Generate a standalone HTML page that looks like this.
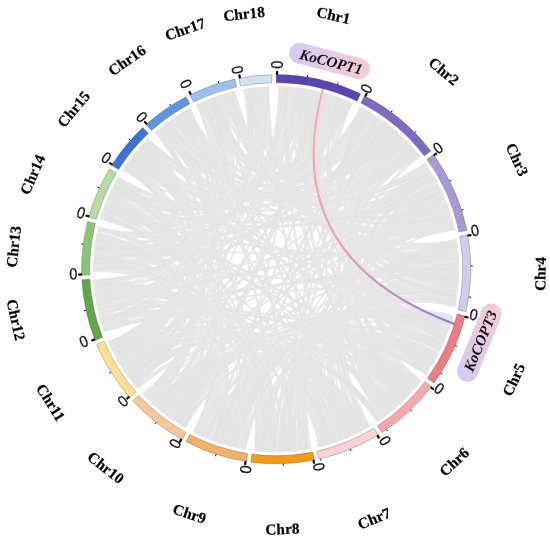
<!DOCTYPE html><html><head><meta charset="utf-8"><style>html,body{margin:0;padding:0;background:#fff;}svg{display:block;}</style></head><body>
<svg width="550" height="540" viewBox="0 0 550 540">
<defs><linearGradient id="lk" gradientUnits="userSpaceOnUse" x1="322.9" y1="88.9" x2="455.5" y2="324.4"><stop offset="0" stop-color="#f6acb2"/><stop offset="0.5" stop-color="#eea3b4"/><stop offset="0.75" stop-color="#c992c2"/><stop offset="1" stop-color="#8c74cd"/></linearGradient><linearGradient id="pill" x1="0" y1="0" x2="1" y2="0"><stop offset="0" stop-color="#d3ccf4"/><stop offset="1" stop-color="#f8cbd4"/></linearGradient></defs>
<rect width="550" height="540" fill="#fff"/>
<g fill="#e3e3e3" fill-opacity="0.82" stroke="#efefef" stroke-width="0.25">
<path d="M100.31,219.41 A182.8,182.8 0 0 1 102.01,213.74 Q270.73,257.88 341.07,98.30 A182.8,182.8 0 0 1 346.45,100.44 Q270.92,258.27 100.31,219.41 Z"/>
<path d="M102.33,212.75 A182.8,182.8 0 0 1 103.78,208.49 Q276.69,265.42 458.39,254.24 A182.8,182.8 0 0 1 458.63,257.55 Q276.63,265.79 102.33,212.75 Z"/>
<path d="M405.62,140.10 A182.8,182.8 0 0 1 408.44,142.99 Q287.41,270.79 368.11,427.21 A182.8,182.8 0 0 1 365.03,428.97 Q287.11,270.73 405.62,140.10 Z"/>
<path d="M262.59,451.49 A182.8,182.8 0 0 1 259.40,451.23 Q268.34,272.45 135.76,152.19 A182.8,182.8 0 0 1 138.11,149.42 Q268.61,272.33 262.59,451.49 Z"/>
<path d="M430.25,170.79 A182.8,182.8 0 0 1 432.13,173.80 Q292.34,268.17 442.98,344.03 A182.8,182.8 0 0 1 441.22,347.84 Q292.15,268.21 430.25,170.79 Z"/>
<path d="M457.12,243.06 A182.8,182.8 0 0 1 457.87,248.89 Q287.66,277.01 323.69,445.72 A182.8,182.8 0 0 1 321.40,446.32 Q287.51,276.75 457.12,243.06 Z"/>
<path d="M154.43,405.54 A182.8,182.8 0 0 1 151.05,402.44 Q275.98,282.73 396.91,406.47 A182.8,182.8 0 0 1 391.73,410.86 Q275.89,283.10 154.43,405.54 Z"/>
<path d="M304.24,449.84 A182.8,182.8 0 0 1 299.08,450.56 Q283.61,271.62 401.55,136.14 A182.8,182.8 0 0 1 404.09,138.58 Q284.00,271.70 304.24,449.84 Z"/>
<path d="M96.36,301.94 A182.8,182.8 0 0 1 95.53,297.00 Q258.10,269.47 94.78,246.80 A182.8,182.8 0 0 1 95.51,241.49 Q258.17,269.45 96.36,301.94 Z"/>
<path d="M167.84,121.98 A182.8,182.8 0 0 1 172.64,118.56 Q264.61,268.18 147.89,399.40 A182.8,182.8 0 0 1 146.72,398.24 Q264.31,268.29 167.84,121.98 Z"/>
<path d="M391.85,127.63 A182.8,182.8 0 0 1 396.56,131.61 Q290.58,266.01 443.49,342.89 A182.8,182.8 0 0 1 442.61,344.85 Q290.30,265.90 391.85,127.63 Z"/>
<path d="M352.52,435.31 A182.8,182.8 0 0 1 346.44,437.97 Q280.17,286.77 285.31,451.77 A182.8,182.8 0 0 1 282.51,451.89 Q280.33,286.64 352.52,435.31 Z"/>
<path d="M283.78,451.84 A182.8,182.8 0 0 1 279.81,451.96 Q267.35,279.77 95.66,297.83 A182.8,182.8 0 0 1 94.77,291.53 Q267.51,279.45 283.78,451.84 Z"/>
<path d="M347.96,437.33 A182.8,182.8 0 0 1 343.87,439.01 Q276.48,269.09 214.19,97.24 A182.8,182.8 0 0 1 217.71,96.01 Q276.86,268.95 347.96,437.33 Z"/>
<path d="M166.95,415.76 A182.8,182.8 0 0 1 162.87,412.63 Q278.35,281.11 432.49,364.01 A182.8,182.8 0 0 1 429.49,368.79 Q278.40,281.51 166.95,415.76 Z"/>
<path d="M162.29,412.17 A182.8,182.8 0 0 1 159.72,410.08 Q270.57,285.38 280.15,451.96 A182.8,182.8 0 0 1 278.15,451.99 Q270.60,285.49 162.29,412.17 Z"/>
<path d="M138.71,148.73 A182.8,182.8 0 0 1 140.76,146.43 Q263.37,269.91 155.14,406.17 A182.8,182.8 0 0 1 153.50,404.71 Q263.19,269.95 138.71,148.73 Z"/>
<path d="M342.17,439.68 A182.8,182.8 0 0 1 339.22,440.79 Q281.48,268.89 318.71,91.41 A182.8,182.8 0 0 1 321.61,92.13 Q281.77,268.87 342.17,439.68 Z"/>
<path d="M276.58,452.00 A182.8,182.8 0 0 1 270.88,451.92 Q271.49,270.35 187.41,109.41 A182.8,182.8 0 0 1 190.36,107.81 Q271.93,270.27 276.58,452.00 Z"/>
<path d="M339.23,97.61 A182.8,182.8 0 0 1 341.82,98.58 Q288.38,258.60 454.24,227.75 A182.8,182.8 0 0 1 454.75,230.03 Q288.28,258.66 339.23,97.61 Z"/>
<path d="M448.16,331.21 A182.8,182.8 0 0 1 446.39,335.92 Q289.96,265.06 381.24,119.59 A182.8,182.8 0 0 1 386.66,123.55 Q290.32,265.02 448.16,331.21 Z"/>
<path d="M200.73,102.71 A182.8,182.8 0 0 1 205.70,100.54 Q276.04,252.27 343.46,99.23 A182.8,182.8 0 0 1 348.72,101.40 Q276.05,252.49 200.73,102.71 Z"/>
<path d="M150.55,401.97 A182.8,182.8 0 0 1 147.76,399.27 Q262.89,269.70 138.35,149.15 A182.8,182.8 0 0 1 141.73,145.37 Q263.19,269.65 150.55,401.97 Z"/>
<path d="M245.75,449.45 A182.8,182.8 0 0 1 239.48,448.27 Q265.26,279.01 94.20,286.27 A182.8,182.8 0 0 1 93.80,281.24 Q265.56,278.81 245.75,449.45 Z"/>
<path d="M223.95,444.37 A182.8,182.8 0 0 1 218.90,442.79 Q281.22,282.50 433.96,361.55 A182.8,182.8 0 0 1 430.87,366.63 Q281.32,282.83 223.95,444.37 Z"/>
<path d="M95.14,294.36 A182.8,182.8 0 0 1 94.68,290.83 Q271.66,278.22 366.82,427.95 A182.8,182.8 0 0 1 362.00,430.61 Q271.44,278.53 95.14,294.36 Z"/>
<path d="M456.74,240.54 A182.8,182.8 0 0 1 457.70,247.48 Q289.95,260.26 369.76,112.16 A182.8,182.8 0 0 1 371.15,112.99 Q289.97,259.96 456.74,240.54 Z"/>
<path d="M198.53,103.72 A182.8,182.8 0 0 1 204.45,101.07 Q263.63,259.08 96.62,235.02 A182.8,182.8 0 0 1 96.99,233.13 Q263.36,259.12 198.53,103.72 Z"/>
<path d="M136.51,387.11 A182.8,182.8 0 0 1 133.37,383.29 Q260.05,273.38 95.97,238.65 A182.8,182.8 0 0 1 97.10,232.63 Q260.26,273.27 136.51,387.11 Z"/>
<path d="M159.91,128.16 A182.8,182.8 0 0 1 163.72,125.10 Q279.41,259.64 452.82,222.06 A182.8,182.8 0 0 1 454.02,226.81 Q279.28,260.03 159.91,128.16 Z"/>
<path d="M261.81,86.97 A182.8,182.8 0 0 1 264.38,86.78 Q270.72,252.36 178.36,114.79 A182.8,182.8 0 0 1 182.39,112.30 Q270.79,252.24 261.81,86.97 Z"/>
<path d="M196.12,104.87 A182.8,182.8 0 0 1 198.83,103.58 Q263.51,263.29 99.67,316.66 A182.8,182.8 0 0 1 98.71,312.95 Q263.32,263.17 196.12,104.87 Z"/>
<path d="M435.53,179.59 A182.8,182.8 0 0 1 436.75,181.79 Q289.80,272.08 387.59,414.14 A182.8,182.8 0 0 1 384.01,416.82 Q289.56,272.10 435.53,179.59 Z"/>
<path d="M93.47,263.99 A182.8,182.8 0 0 1 93.56,261.64 Q267.62,259.70 287.24,86.73 A182.8,182.8 0 0 1 291.85,87.07 Q267.85,259.83 93.47,263.99 Z"/>
<path d="M261.90,451.44 A182.8,182.8 0 0 1 255.77,450.86 Q268.27,284.26 137.97,388.82 A182.8,182.8 0 0 1 134.78,385.03 Q268.41,284.10 261.90,451.44 Z"/>
<path d="M336.26,96.55 A182.8,182.8 0 0 1 340.08,97.92 Q288.51,261.30 458.52,282.38 A182.8,182.8 0 0 1 458.15,286.78 Q288.30,261.45 336.26,96.55 Z"/>
<path d="M425.64,163.93 A182.8,182.8 0 0 1 428.85,168.63 Q277.96,257.17 158.66,129.20 A182.8,182.8 0 0 1 163.35,125.39 Q278.03,256.75 425.64,163.93 Z"/>
<path d="M115.40,356.15 A182.8,182.8 0 0 1 114.43,354.33 Q271.40,281.98 341.98,439.76 A182.8,182.8 0 0 1 338.20,441.16 Q271.26,282.15 115.40,356.15 Z"/>
<path d="M338.55,97.36 A182.8,182.8 0 0 1 340.21,97.97 Q272.88,267.04 145.75,397.25 A182.8,182.8 0 0 1 143.62,395.05 Q272.69,266.90 338.55,97.36 Z"/>
<path d="M159.21,409.66 A182.8,182.8 0 0 1 157.62,408.32 Q277.78,270.95 426.40,165.00 A182.8,182.8 0 0 1 429.18,169.14 Q278.00,271.22 159.21,409.66 Z"/>
<path d="M147.12,398.63 A182.8,182.8 0 0 1 143.51,394.93 Q260.48,274.45 94.57,248.51 A182.8,182.8 0 0 1 94.87,246.08 Q260.68,274.52 147.12,398.63 Z"/>
<path d="M178.21,114.88 A182.8,182.8 0 0 1 180.21,113.63 Q266.60,269.20 180.16,424.74 A182.8,182.8 0 0 1 176.16,422.20 Q266.30,269.13 178.21,114.88 Z"/>
<path d="M457.79,248.21 A182.8,182.8 0 0 1 458.07,250.80 Q285.72,277.41 284.72,451.80 A182.8,182.8 0 0 1 280.73,451.94 Q285.51,277.29 457.79,248.21 Z"/>
<path d="M221.57,443.65 A182.8,182.8 0 0 1 216.84,442.09 Q278.39,285.39 379.39,420.09 A182.8,182.8 0 0 1 378.15,420.93 Q278.57,285.51 221.57,443.65 Z"/>
<path d="M328.09,93.92 A182.8,182.8 0 0 1 331.53,94.97 Q270.79,256.40 112.71,187.42 A182.8,182.8 0 0 1 114.50,183.94 Q270.71,256.17 328.09,93.92 Z"/>
<path d="M209.69,439.47 A182.8,182.8 0 0 1 203.49,436.92 Q280.68,281.78 438.57,353.18 A182.8,182.8 0 0 1 436.79,356.53 Q280.90,282.08 209.69,439.47 Z"/>
<path d="M175.07,421.48 A182.8,182.8 0 0 1 172.76,419.92 Q262.83,272.70 112.18,188.49 A182.8,182.8 0 0 1 114.48,183.99 Q263.06,272.55 175.07,421.48 Z"/>
<path d="M320.83,91.93 A182.8,182.8 0 0 1 323.32,92.58 Q287.30,263.02 451.15,322.18 A182.8,182.8 0 0 1 449.49,327.41 Q287.10,263.25 320.83,91.93 Z"/>
<path d="M323.29,92.57 A182.8,182.8 0 0 1 329.55,94.36 Q276.25,251.70 223.88,94.05 A182.8,182.8 0 0 1 227.36,93.04 Q276.11,251.56 323.29,92.57 Z"/>
<path d="M458.73,259.24 A182.8,182.8 0 0 1 458.85,261.71 Q285.95,259.71 288.51,86.82 A182.8,182.8 0 0 1 292.25,87.11 Q286.13,259.60 458.73,259.24 Z"/>
<path d="M124.17,370.70 A182.8,182.8 0 0 1 121.31,366.28 Q267.63,264.95 259.77,87.14 A182.8,182.8 0 0 1 261.93,86.96 Q267.89,265.16 124.17,370.70 Z"/>
<path d="M428.61,370.13 A182.8,182.8 0 0 1 425.67,374.44 Q288.05,266.44 363.69,108.70 A182.8,182.8 0 0 1 367.36,110.75 Q288.38,266.32 428.61,370.13 Z"/>
<path d="M346.20,438.07 A182.8,182.8 0 0 1 340.54,440.30 Q287.62,273.72 440.25,188.55 A182.8,182.8 0 0 1 442.64,193.62 Q288.02,273.86 346.20,438.07 Z"/>
<path d="M250.79,88.17 A182.8,182.8 0 0 1 256.50,87.46 Q284.07,257.84 453.24,223.67 A182.8,182.8 0 0 1 453.76,225.75 Q283.81,257.98 250.79,88.17 Z"/>
<path d="M104.34,331.50 A182.8,182.8 0 0 1 102.37,325.75 Q261.43,265.20 154.61,132.70 A182.8,182.8 0 0 1 159.29,128.67 Q261.76,265.29 104.34,331.50 Z"/>
<path d="M334.08,442.60 A182.8,182.8 0 0 1 329.98,443.91 Q273.00,270.95 158.42,129.40 A182.8,182.8 0 0 1 161.13,127.16 Q273.34,270.77 334.08,442.60 Z"/>
<path d="M438.84,352.66 A182.8,182.8 0 0 1 436.09,357.81 Q285.79,282.63 308.10,449.20 A182.8,182.8 0 0 1 305.63,449.62 Q285.80,282.39 438.84,352.66 Z"/>
<path d="M458.05,287.84 A182.8,182.8 0 0 1 457.80,290.08 Q281.89,278.73 208.34,438.94 A182.8,182.8 0 0 1 206.33,438.12 Q281.80,278.58 458.05,287.84 Z"/>
<path d="M97.30,231.65 A182.8,182.8 0 0 1 98.02,228.38 Q266.40,258.06 258.34,87.27 A182.8,182.8 0 0 1 261.30,87.01 Q266.51,258.21 97.30,231.65 Z"/>
<path d="M165.67,414.80 A182.8,182.8 0 0 1 162.51,412.34 Q262.05,272.91 106.89,200.28 A182.8,182.8 0 0 1 108.82,195.71 Q262.30,272.81 165.67,414.80 Z"/>
<path d="M108.32,196.86 A182.8,182.8 0 0 1 110.02,193.05 Q260.28,270.46 124.04,370.51 A182.8,182.8 0 0 1 120.91,365.64 Q260.04,270.41 108.32,196.86 Z"/>
<path d="M327.11,444.77 A182.8,182.8 0 0 1 324.83,445.41 Q270.30,281.77 109.56,344.34 A182.8,182.8 0 0 1 108.23,341.32 Q270.35,281.58 327.11,444.77 Z"/>
<path d="M448.86,209.15 A182.8,182.8 0 0 1 450.04,212.68 Q287.70,275.07 332.36,443.16 A182.8,182.8 0 0 1 327.43,444.67 Q287.39,274.97 448.86,209.15 Z"/>
<path d="M132.35,382.00 A182.8,182.8 0 0 1 129.62,378.42 Q277.47,277.75 448.25,330.97 A182.8,182.8 0 0 1 447.65,332.62 Q277.58,278.01 132.35,382.00 Z"/>
<path d="M99.94,317.65 A182.8,182.8 0 0 1 99.24,315.06 Q266.20,262.43 253.06,87.87 A182.8,182.8 0 0 1 259.56,87.16 Q266.55,262.52 99.94,317.65 Z"/>
<path d="M443.38,343.15 A182.8,182.8 0 0 1 442.49,345.11 Q282.20,281.84 229.99,446.06 A182.8,182.8 0 0 1 225.13,444.72 Q282.01,281.67 443.38,343.15 Z"/>
<path d="M170.66,119.94 A182.8,182.8 0 0 1 175.77,116.46 Q276.19,253.92 376.39,116.30 A182.8,182.8 0 0 1 380.29,118.93 Q276.13,254.22 170.66,119.94 Z"/>
<path d="M178.03,115.00 A182.8,182.8 0 0 1 181.00,113.14 Q266.19,268.88 171.24,418.87 A182.8,182.8 0 0 1 166.50,415.42 Q265.81,268.80 178.03,115.00 Z"/>
<path d="M128.83,377.36 A182.8,182.8 0 0 1 126.30,373.83 Q273.00,282.50 362.04,430.59 A182.8,182.8 0 0 1 358.21,432.57 Q272.93,282.78 128.83,377.36 Z"/>
<path d="M419.29,382.96 A182.8,182.8 0 0 1 415.50,387.57 Q284.23,284.20 297.60,450.74 A182.8,182.8 0 0 1 293.88,451.14 Q284.24,283.99 419.29,382.96 Z"/>
<path d="M301.55,450.23 A182.8,182.8 0 0 1 297.64,450.74 Q268.27,276.71 96.10,237.90 A182.8,182.8 0 0 1 96.92,233.52 Q268.50,276.47 301.55,450.23 Z"/>
<path d="M103.87,208.23 A182.8,182.8 0 0 1 105.81,202.99 Q274.76,271.66 417.88,384.71 A182.8,182.8 0 0 1 415.40,387.69 Q274.54,272.08 103.87,208.23 Z"/>
<path d="M458.34,284.70 A182.8,182.8 0 0 1 457.91,289.17 Q287.06,261.23 311.68,89.88 A182.8,182.8 0 0 1 318.49,91.36 Q287.42,261.08 458.34,284.70 Z"/>
<path d="M400.56,135.22 A182.8,182.8 0 0 1 404.18,138.67 Q273.48,262.04 93.83,256.63 A182.8,182.8 0 0 1 94.30,251.06 Q273.32,261.59 400.56,135.22 Z"/>
<path d="M130.61,158.66 A182.8,182.8 0 0 1 131.98,156.88 Q272.56,255.17 347.61,100.92 A182.8,182.8 0 0 1 351.68,102.71 Q272.69,255.35 130.61,158.66 Z"/>
<path d="M122.23,170.67 A182.8,182.8 0 0 1 123.27,169.06 Q275.64,258.43 418.01,153.85 A182.8,182.8 0 0 1 420.38,156.83 Q275.71,258.65 122.23,170.67 Z"/>
<path d="M457.17,295.03 A182.8,182.8 0 0 1 456.39,299.97 Q286.76,279.75 307.25,449.34 A182.8,182.8 0 0 1 304.00,449.87 Q286.64,279.53 457.17,295.03 Z"/>
<path d="M452.57,221.13 A182.8,182.8 0 0 1 454.03,226.85 Q281.65,258.62 207.31,99.88 A182.8,182.8 0 0 1 211.76,98.13 Q281.80,258.24 452.57,221.13 Z"/>
<path d="M409.03,143.61 A182.8,182.8 0 0 1 410.74,145.45 Q278.20,255.19 181.71,112.72 A182.8,182.8 0 0 1 187.59,109.31 Q278.41,254.93 409.03,143.61 Z"/>
<path d="M176.86,422.65 A182.8,182.8 0 0 1 171.81,419.26 Q272.80,267.75 312.65,90.07 A182.8,182.8 0 0 1 317.55,91.14 Q273.30,267.97 176.86,422.65 Z"/>
<path d="M204.42,101.08 A182.8,182.8 0 0 1 208.48,99.41 Q264.65,264.82 112.89,351.34 A182.8,182.8 0 0 1 109.87,345.03 Q264.29,264.59 204.42,101.08 Z"/>
<path d="M216.59,442.01 A182.8,182.8 0 0 1 210.07,439.62 Q280.57,282.69 429.65,368.55 A182.8,182.8 0 0 1 425.77,374.30 Q280.70,283.10 216.59,442.01 Z"/>
<path d="M454.16,227.43 A182.8,182.8 0 0 1 454.76,230.08 Q291.40,260.60 401.72,136.30 A182.8,182.8 0 0 1 403.37,137.89 Q291.46,260.55 454.16,227.43 Z"/>
<path d="M369.02,426.68 A182.8,182.8 0 0 1 362.95,430.10 Q275.15,284.63 168.41,416.84 A182.8,182.8 0 0 1 163.99,413.51 Q275.23,284.29 369.02,426.68 Z"/>
<path d="M459.00,269.34 A182.8,182.8 0 0 1 458.91,275.00 Q286.05,260.38 290.47,86.96 A182.8,182.8 0 0 1 292.41,87.12 Q286.15,260.10 459.00,269.34 Z"/>
<path d="M394.90,408.21 A182.8,182.8 0 0 1 392.75,410.03 Q276.08,283.18 157.30,408.05 A182.8,182.8 0 0 1 155.57,406.55 Q276.10,283.02 394.90,408.21 Z"/>
<path d="M96.90,304.80 A182.8,182.8 0 0 1 95.88,299.23 Q276.06,268.54 453.81,225.95 A182.8,182.8 0 0 1 454.77,230.09 Q276.16,269.02 96.90,304.80 Z"/>
<path d="M93.42,271.58 A182.8,182.8 0 0 1 93.43,266.14 Q266.83,278.18 271.51,451.94 A182.8,182.8 0 0 1 264.52,451.63 Q266.48,278.44 93.42,271.58 Z"/>
<path d="M438.46,353.39 A182.8,182.8 0 0 1 436.50,357.06 Q286.60,264.77 323.86,92.72 A182.8,182.8 0 0 1 326.73,93.52 Q286.84,264.63 438.46,353.39 Z"/>
<path d="M389.84,126.02 A182.8,182.8 0 0 1 393.02,128.60 Q287.58,269.44 386.93,414.65 A182.8,182.8 0 0 1 383.61,417.12 Q287.25,269.44 389.84,126.02 Z"/>
<path d="M134.10,154.21 A182.8,182.8 0 0 1 137.94,149.61 Q260.43,265.49 99.14,314.65 A182.8,182.8 0 0 1 97.62,308.25 Q260.17,265.40 134.10,154.21 Z"/>
<path d="M125.37,372.48 A182.8,182.8 0 0 1 124.17,370.70 Q276.52,269.71 434.59,177.94 A182.8,182.8 0 0 1 436.00,180.43 Q276.65,269.93 125.37,372.48 Z"/>
<path d="M94.68,290.81 A182.8,182.8 0 0 1 93.99,283.90 Q259.88,275.55 131.92,381.45 A182.8,182.8 0 0 1 129.34,378.04 Q259.78,275.72 94.68,290.81 Z"/>
<path d="M101.28,216.11 A182.8,182.8 0 0 1 102.72,211.58 Q266.98,257.20 265.29,86.73 A182.8,182.8 0 0 1 269.28,86.53 Q267.11,257.41 101.28,216.11 Z"/>
<path d="M445.58,337.95 A182.8,182.8 0 0 1 443.64,342.54 Q290.07,265.57 386.17,123.18 A182.8,182.8 0 0 1 389.39,125.66 Q290.33,265.46 445.58,337.95 Z"/>
<path d="M261.87,451.44 A182.8,182.8 0 0 1 255.06,450.77 Q280.39,285.76 381.11,418.90 A182.8,182.8 0 0 1 377.52,421.35 Q280.55,285.92 261.87,451.44 Z"/>
<path d="M411.25,392.40 A182.8,182.8 0 0 1 408.93,394.90 Q280.51,284.32 229.74,446.00 A182.8,182.8 0 0 1 223.76,444.32 Q280.33,284.12 411.25,392.40 Z"/>
<path d="M437.47,183.12 A182.8,182.8 0 0 1 439.64,187.33 Q282.06,256.26 229.90,92.36 A182.8,182.8 0 0 1 234.96,91.11 Q282.20,255.99 437.47,183.12 Z"/>
<path d="M280.89,86.46 A182.8,182.8 0 0 1 287.28,86.74 Q283.00,266.75 401.21,402.57 A182.8,182.8 0 0 1 398.85,404.75 Q282.57,266.84 280.89,86.46 Z"/>
<path d="M397.27,132.24 A182.8,182.8 0 0 1 399.83,134.54 Q290.86,265.88 445.75,337.52 A182.8,182.8 0 0 1 443.93,341.87 Q290.64,265.99 397.27,132.24 Z"/>
<path d="M124.01,167.94 A182.8,182.8 0 0 1 127.04,163.53 Q260.58,268.04 113.02,351.58 A182.8,182.8 0 0 1 110.58,346.58 Q260.31,268.01 124.01,167.94 Z"/>
<path d="M458.70,279.62 A182.8,182.8 0 0 1 458.46,283.19 Q293.81,266.53 446.15,201.88 A182.8,182.8 0 0 1 447.18,204.53 Q293.87,266.49 458.70,279.62 Z"/>
<path d="M220.03,443.16 A182.8,182.8 0 0 1 217.95,442.47 Q264.23,279.06 94.98,293.17 A182.8,182.8 0 0 1 94.30,287.36 Q264.30,278.81 220.03,443.16 Z"/>
<path d="M406.97,396.93 A182.8,182.8 0 0 1 402.75,401.11 Q278.75,284.12 200.57,435.62 A182.8,182.8 0 0 1 196.68,433.80 Q278.76,283.82 406.97,396.93 Z"/>
<path d="M385.38,415.81 A182.8,182.8 0 0 1 382.66,417.80 Q289.57,272.29 437.11,182.46 A182.8,182.8 0 0 1 439.56,187.16 Q289.83,272.43 385.38,415.81 Z"/>
<path d="M181.15,425.34 A182.8,182.8 0 0 1 177.75,423.22 Q273.32,267.99 317.11,91.04 A182.8,182.8 0 0 1 319.29,91.55 Q273.60,268.12 181.15,425.34 Z"/>
<path d="M180.82,113.26 A182.8,182.8 0 0 1 186.12,110.13 Q262.62,262.36 94.76,291.47 A182.8,182.8 0 0 1 94.54,289.62 Q262.35,262.42 180.82,113.26 Z"/>
<path d="M395.28,407.89 A182.8,182.8 0 0 1 392.04,410.61 Q286.47,268.30 365.81,109.87 A182.8,182.8 0 0 1 368.14,111.21 Q286.75,268.23 395.28,407.89 Z"/>
<path d="M302.49,88.30 A182.8,182.8 0 0 1 309.40,89.44 Q270.38,254.96 126.64,164.09 A182.8,182.8 0 0 1 128.26,161.82 Q270.12,254.79 302.49,88.30 Z"/>
<path d="M355.29,434.01 A182.8,182.8 0 0 1 353.82,434.70 Q277.70,286.30 228.60,445.69 A182.8,182.8 0 0 1 225.13,444.72 Q277.60,286.22 355.29,434.01 Z"/>
<path d="M315.77,90.73 A182.8,182.8 0 0 1 320.33,91.81 Q287.54,260.51 458.97,272.73 A182.8,182.8 0 0 1 458.74,279.00 Q287.31,260.77 315.77,90.73 Z"/>
<path d="M362.38,430.41 A182.8,182.8 0 0 1 360.80,431.24 Q272.26,281.40 112.81,351.18 A182.8,182.8 0 0 1 110.60,346.61 Q272.23,281.13 362.38,430.41 Z"/>
<path d="M410.92,145.64 A182.8,182.8 0 0 1 414.75,149.95 Q291.89,260.64 451.46,217.25 A182.8,182.8 0 0 1 452.06,219.31 Q291.73,260.53 410.92,145.64 Z"/>
<path d="M296.54,87.53 A182.8,182.8 0 0 1 300.73,88.05 Q285.21,264.94 431.83,365.08 A182.8,182.8 0 0 1 429.85,368.24 Q284.90,265.07 296.54,87.53 Z"/>
<path d="M333.29,95.54 A182.8,182.8 0 0 1 337.38,96.94 Q281.49,269.45 320.81,446.47 A182.8,182.8 0 0 1 318.83,446.96 Q281.19,269.41 333.29,95.54 Z"/>
<path d="M105.92,202.72 A182.8,182.8 0 0 1 107.04,199.90 Q268.11,256.60 283.55,86.55 A182.8,182.8 0 0 1 286.56,86.69 Q268.20,256.75 105.92,202.72 Z"/>
<path d="M410.69,393.01 A182.8,182.8 0 0 1 406.94,396.96 Q291.81,276.71 457.62,291.66 A182.8,182.8 0 0 1 456.74,297.88 Q291.95,276.82 410.69,393.01 Z"/>
<path d="M449.28,328.02 A182.8,182.8 0 0 1 448.75,329.54 Q277.45,266.82 128.67,161.26 A182.8,182.8 0 0 1 130.95,158.21 Q277.59,266.59 449.28,328.02 Z"/>
<path d="M424.72,162.62 A182.8,182.8 0 0 1 428.64,168.31 Q288.12,272.22 362.08,430.57 A182.8,182.8 0 0 1 356.70,433.32 Q287.65,272.08 424.72,162.62 Z"/>
<path d="M95.01,244.97 A182.8,182.8 0 0 1 95.59,241.02 Q263.53,276.18 203.44,436.89 A182.8,182.8 0 0 1 198.89,434.85 Q263.28,276.27 95.01,244.97 Z"/>
<path d="M329.78,94.43 A182.8,182.8 0 0 1 335.35,96.23 Q270.89,256.66 110.77,191.42 A182.8,182.8 0 0 1 112.04,188.79 Q270.67,256.44 329.78,94.43 Z"/>
<path d="M396.33,131.41 A182.8,182.8 0 0 1 401.21,135.83 Q289.61,268.21 419.44,382.76 A182.8,182.8 0 0 1 416.64,386.22 Q289.23,268.16 396.33,131.41 Z"/>
<path d="M109.78,193.57 A182.8,182.8 0 0 1 112.40,188.05 Q268.76,256.03 291.11,87.01 A182.8,182.8 0 0 1 293.08,87.18 Q268.72,256.32 109.78,193.57 Z"/>
<path d="M141.27,145.87 A182.8,182.8 0 0 1 143.85,143.11 Q265.08,270.85 186.07,428.24 A182.8,182.8 0 0 1 181.49,425.55 Q264.72,270.85 141.27,145.87 Z"/>
<path d="M435.93,358.10 A182.8,182.8 0 0 1 432.54,363.92 Q278.75,281.41 170.95,418.66 A182.8,182.8 0 0 1 168.46,416.87 Q278.80,281.03 435.93,358.10 Z"/>
<path d="M458.91,263.54 A182.8,182.8 0 0 1 459.00,268.00 Q291.14,276.21 392.14,410.53 A182.8,182.8 0 0 1 388.19,413.68 Q290.94,276.14 458.91,263.54 Z"/>
<path d="M121.09,365.93 A182.8,182.8 0 0 1 118.09,360.95 Q263.26,281.42 175.53,421.78 A182.8,182.8 0 0 1 170.02,418.00 Q263.14,281.48 121.09,365.93 Z"/>
<path d="M93.41,270.76 A182.8,182.8 0 0 1 93.43,265.99 Q266.39,259.92 262.69,86.90 A182.8,182.8 0 0 1 265.05,86.74 Q266.50,260.16 93.41,270.76 Z"/>
<path d="M144.11,142.83 A182.8,182.8 0 0 1 148.38,138.52 Q276.76,256.73 415.13,150.40 A182.8,182.8 0 0 1 417.52,153.25 Q276.66,257.08 144.11,142.83 Z"/>
<path d="M236.57,447.65 A182.8,182.8 0 0 1 233.22,446.88 Q277.46,286.56 344.42,438.79 A182.8,182.8 0 0 1 338.96,440.89 Q277.36,286.71 236.57,447.65 Z"/>
<path d="M224.73,444.60 A182.8,182.8 0 0 1 221.73,443.70 Q282.29,280.35 452.45,317.68 A182.8,182.8 0 0 1 451.63,320.57 Q282.40,280.54 224.73,444.60 Z"/>
<path d="M256.09,450.89 A182.8,182.8 0 0 1 254.39,450.69 Q266.36,275.62 101.28,216.11 A182.8,182.8 0 0 1 102.60,211.94 Q266.51,275.42 256.09,450.89 Z"/>
<path d="M380.20,419.53 A182.8,182.8 0 0 1 376.94,421.74 Q274.63,283.14 144.09,395.55 A182.8,182.8 0 0 1 142.10,393.43 Q274.70,282.93 380.20,419.53 Z"/>
<path d="M404.28,138.78 A182.8,182.8 0 0 1 408.07,142.61 Q280.43,254.04 229.01,92.60 A182.8,182.8 0 0 1 234.56,91.21 Q280.52,253.78 404.28,138.78 Z"/>
<path d="M129.18,160.56 A182.8,182.8 0 0 1 133.08,155.48 Q277.26,267.52 440.54,349.25 A182.8,182.8 0 0 1 439.63,351.09 Q277.02,267.86 129.18,160.56 Z"/>
<path d="M100.34,219.30 A182.8,182.8 0 0 1 101.01,216.99 Q274.10,272.85 409.30,394.50 A182.8,182.8 0 0 1 406.13,397.79 Q273.90,273.13 100.34,219.30 Z"/>
<path d="M155.17,132.21 A182.8,182.8 0 0 1 159.47,128.52 Q262.47,266.78 118.37,361.43 A182.8,182.8 0 0 1 115.61,356.54 Q262.12,266.72 155.17,132.21 Z"/>
<path d="M387.29,124.03 A182.8,182.8 0 0 1 390.46,126.51 Q273.87,257.73 115.29,182.46 A182.8,182.8 0 0 1 117.63,178.25 Q273.83,257.39 387.29,124.03 Z"/>
<path d="M450.18,325.29 A182.8,182.8 0 0 1 449.37,327.75 Q279.83,279.76 175.63,421.85 A182.8,182.8 0 0 1 171.96,419.37 Q279.69,279.51 450.18,325.29 Z"/>
<path d="M450.90,215.38 A182.8,182.8 0 0 1 451.64,217.84 Q276.63,270.37 109.42,344.04 A182.8,182.8 0 0 1 108.12,341.08 Q276.53,270.10 450.90,215.38 Z"/>
<path d="M110.37,346.13 A182.8,182.8 0 0 1 108.49,341.92 Q262.34,265.51 166.81,122.74 A182.8,182.8 0 0 1 171.78,119.16 Q262.69,265.54 110.37,346.13 Z"/>
<path d="M456.38,300.02 A182.8,182.8 0 0 1 456.05,301.93 Q276.05,270.88 93.40,270.01 A182.8,182.8 0 0 1 93.43,265.75 Q276.07,270.57 456.38,300.02 Z"/>
<path d="M153.32,404.54 A182.8,182.8 0 0 1 151.34,402.72 Q278.61,278.81 449.30,327.96 A182.8,182.8 0 0 1 447.00,334.33 Q278.60,279.22 153.32,404.54 Z"/>
<path d="M149.94,401.39 A182.8,182.8 0 0 1 148.60,400.09 Q272.47,284.49 329.23,444.14 A182.8,182.8 0 0 1 324.46,445.51 Q272.30,284.63 149.94,401.39 Z"/>
<path d="M101.94,324.42 A182.8,182.8 0 0 1 101.21,322.07 Q261.98,264.52 166.79,122.76 A182.8,182.8 0 0 1 169.54,120.74 Q262.15,264.54 101.94,324.42 Z"/>
<path d="M459.00,269.92 A182.8,182.8 0 0 1 458.97,272.64 Q289.01,277.74 349.67,436.59 A182.8,182.8 0 0 1 343.54,439.14 Q288.71,277.73 459.00,269.92 Z"/>
<path d="M456.44,238.72 A182.8,182.8 0 0 1 456.99,242.16 Q285.89,276.97 289.15,451.54 A182.8,182.8 0 0 1 285.34,451.77 Q285.67,276.80 456.44,238.72 Z"/>
<path d="M380.87,119.33 A182.8,182.8 0 0 1 385.23,122.47 Q272.55,261.06 94.11,253.05 A182.8,182.8 0 0 1 94.49,249.26 Q272.35,260.71 380.87,119.33 Z"/>
<path d="M458.65,280.53 A182.8,182.8 0 0 1 458.34,284.69 Q284.07,260.92 251.51,88.08 A182.8,182.8 0 0 1 255.21,87.61 Q284.27,260.69 458.65,280.53 Z"/>
<path d="M339.10,440.84 A182.8,182.8 0 0 1 336.89,441.63 Q286.31,272.04 417.71,153.48 A182.8,182.8 0 0 1 419.87,156.17 Q286.53,272.13 339.10,440.84 Z"/>
<path d="M117.11,179.17 A182.8,182.8 0 0 1 118.20,177.26 Q265.03,273.14 210.76,439.89 A182.8,182.8 0 0 1 204.68,437.43 Q264.67,273.11 117.11,179.17 Z"/>
<path d="M121.13,366.00 A182.8,182.8 0 0 1 119.24,362.90 Q272.43,282.06 357.79,432.78 A182.8,182.8 0 0 1 353.24,434.97 Q272.30,282.33 121.13,366.00 Z"/>
<path d="M444.94,198.90 A182.8,182.8 0 0 1 445.86,201.16 Q293.66,267.49 455.82,303.14 A182.8,182.8 0 0 1 455.37,305.46 Q293.60,267.50 444.94,198.90 Z"/>
<path d="M447.70,205.93 A182.8,182.8 0 0 1 448.78,208.94 Q291.25,259.68 404.57,139.06 A182.8,182.8 0 0 1 405.92,140.40 Q291.26,259.60 447.70,205.93 Z"/>
<path d="M385.37,415.82 A182.8,182.8 0 0 1 382.94,417.60 Q276.92,268.73 183.87,111.43 A182.8,182.8 0 0 1 187.71,109.24 Q277.23,268.53 385.37,415.82 Z"/>
<path d="M417.13,152.77 A182.8,182.8 0 0 1 419.27,155.42 Q283.46,254.37 278.40,86.41 A182.8,182.8 0 0 1 280.81,86.46 Q283.48,254.24 417.13,152.77 Z"/>
<path d="M451.82,319.93 A182.8,182.8 0 0 1 450.72,323.58 Q280.90,280.12 195.63,433.29 A182.8,182.8 0 0 1 194.36,432.66 Q280.89,279.91 451.82,319.93 Z"/>
<path d="M408.27,142.81 A182.8,182.8 0 0 1 411.30,146.05 Q290.96,267.46 436.22,357.58 A182.8,182.8 0 0 1 433.09,363.01 Q290.65,267.57 408.27,142.81 Z"/>
<path d="M240.02,448.38 A182.8,182.8 0 0 1 237.61,447.88 Q268.22,271.29 155.14,132.23 A182.8,182.8 0 0 1 157.51,130.17 Q268.46,271.21 240.02,448.38 Z"/>
<path d="M231.13,92.04 A182.8,182.8 0 0 1 234.73,91.17 Q265.76,256.61 108.92,195.50 A182.8,182.8 0 0 1 111.71,189.47 Q265.72,256.36 231.13,92.04 Z"/>
<path d="M427.94,371.13 A182.8,182.8 0 0 1 425.43,374.77 Q275.08,277.62 104.56,332.10 A182.8,182.8 0 0 1 103.00,327.66 Q275.13,277.22 427.94,371.13 Z"/>
<path d="M281.10,86.47 A182.8,182.8 0 0 1 285.59,86.64 Q268.46,256.05 112.04,188.79 A182.8,182.8 0 0 1 114.65,183.66 Q268.37,255.79 281.10,86.47 Z"/>
<path d="M97.26,306.55 A182.8,182.8 0 0 1 96.11,300.57 Q271.41,262.66 360.40,106.95 A182.8,182.8 0 0 1 363.36,108.52 Q271.61,263.03 97.26,306.55 Z"/>
<path d="M436.58,181.48 A182.8,182.8 0 0 1 438.00,184.14 Q292.79,268.31 446.15,336.52 A182.8,182.8 0 0 1 443.92,341.91 Q292.60,268.45 436.58,181.48 Z"/>
<path d="M375.45,115.69 A182.8,182.8 0 0 1 379.27,118.23 Q282.17,270.75 292.61,451.26 A182.8,182.8 0 0 1 290.52,451.44 Q281.88,270.64 375.45,115.69 Z"/>
<path d="M427.46,166.55 A182.8,182.8 0 0 1 429.27,169.27 Q278.27,256.97 164.49,124.50 A182.8,182.8 0 0 1 166.66,122.86 Q278.29,256.75 427.46,166.55 Z"/>
<path d="M258.96,451.19 A182.8,182.8 0 0 1 257.02,450.99 Q283.66,281.85 444.54,340.46 A182.8,182.8 0 0 1 441.78,346.65 Q283.62,282.17 258.96,451.19 Z"/>
<path d="M238.73,448.12 A182.8,182.8 0 0 1 235.45,447.40 Q265.74,274.57 107.67,198.40 A182.8,182.8 0 0 1 109.01,195.28 Q265.97,274.45 238.73,448.12 Z"/>
<path d="M120.22,364.52 A182.8,182.8 0 0 1 118.38,361.44 Q261.34,267.90 136.77,150.99 A182.8,182.8 0 0 1 139.44,147.90 Q261.56,267.90 120.22,364.52 Z"/>
<path d="M457.99,249.99 A182.8,182.8 0 0 1 458.37,254.09 Q280.50,276.22 180.11,424.71 A182.8,182.8 0 0 1 175.65,421.86 Q280.26,275.87 457.99,249.99 Z"/>
<path d="M97.86,229.09 A182.8,182.8 0 0 1 98.33,227.04 Q259.05,271.01 111.08,347.62 A182.8,182.8 0 0 1 109.74,344.74 Q258.96,270.97 97.86,229.09 Z"/>
<path d="M196.72,104.58 A182.8,182.8 0 0 1 199.10,103.45 Q265.05,266.42 130.29,379.31 A182.8,182.8 0 0 1 128.75,377.25 Q264.85,266.37 196.72,104.58 Z"/>
<path d="M278.67,451.98 A182.8,182.8 0 0 1 275.64,452.00 Q267.04,278.10 93.46,264.34 A182.8,182.8 0 0 1 93.57,261.37 Q267.19,277.95 278.67,451.98 Z"/>
<path d="M95.82,298.85 A182.8,182.8 0 0 1 95.04,293.62 Q270.02,279.10 333.67,442.73 A182.8,182.8 0 0 1 329.53,444.05 Q269.85,279.42 95.82,298.85 Z"/>
<path d="M94.05,284.57 A182.8,182.8 0 0 1 93.72,280.05 Q259.88,264.11 132.29,156.48 A182.8,182.8 0 0 1 136.65,151.13 Q260.11,264.06 94.05,284.57 Z"/>
<path d="M250.05,88.28 A182.8,182.8 0 0 1 252.77,87.91 Q266.01,261.60 95.77,298.51 A182.8,182.8 0 0 1 95.41,296.25 Q265.85,261.51 250.05,88.28 Z"/>
<path d="M221.73,94.70 A182.8,182.8 0 0 1 224.66,93.81 Q278.32,252.59 370.06,112.34 A182.8,182.8 0 0 1 374.73,115.22 Q278.40,252.78 221.73,94.70 Z"/>
<path d="M328.10,444.48 A182.8,182.8 0 0 1 321.79,446.22 Q287.33,280.34 453.18,314.97 A182.8,182.8 0 0 1 452.16,318.73 Q287.59,280.44 328.10,444.48 Z"/>
<path d="M96.23,237.14 A182.8,182.8 0 0 1 97.19,232.17 Q260.98,274.00 150.84,402.24 A182.8,182.8 0 0 1 146.74,398.26 Q260.73,274.05 96.23,237.14 Z"/>
<path d="M302.46,450.10 A182.8,182.8 0 0 1 297.93,450.70 Q286.42,277.94 458.88,262.58 A182.8,182.8 0 0 1 458.93,264.26 Q286.65,278.00 302.46,450.10 Z"/>
<path d="M257.56,87.35 A182.8,182.8 0 0 1 262.63,86.90 Q280.39,252.35 373.60,114.51 A182.8,182.8 0 0 1 375.13,115.48 Q280.21,252.42 257.56,87.35 Z"/>
<path d="M360.35,106.92 A182.8,182.8 0 0 1 365.67,109.79 Q288.38,266.14 430.42,367.35 A182.8,182.8 0 0 1 428.36,370.51 Q288.02,266.15 360.35,106.92 Z"/>
<path d="M244.51,449.23 A182.8,182.8 0 0 1 242.36,448.84 Q283.62,277.46 458.44,254.84 A182.8,182.8 0 0 1 458.68,258.45 Q283.74,277.66 244.51,449.23 Z"/>
<path d="M127.02,374.85 A182.8,182.8 0 0 1 124.75,371.57 Q261.15,269.07 126.61,164.13 A182.8,182.8 0 0 1 128.32,161.74 Q261.35,269.11 127.02,374.85 Z"/>
<path d="M281.32,451.93 A182.8,182.8 0 0 1 277.62,451.99 Q284.77,274.97 446.08,201.71 A182.8,182.8 0 0 1 447.30,204.85 Q285.01,275.12 281.32,451.93 Z"/>
<path d="M440.85,189.79 A182.8,182.8 0 0 1 443.10,194.63 Q286.17,274.47 308.73,449.08 A182.8,182.8 0 0 1 303.40,449.97 Q285.79,274.27 440.85,189.79 Z"/>
<path d="M437.13,355.90 A182.8,182.8 0 0 1 434.17,361.18 Q285.84,282.77 311.04,448.65 A182.8,182.8 0 0 1 307.72,449.26 Q285.82,282.54 437.13,355.90 Z"/>
<path d="M354.53,434.37 A182.8,182.8 0 0 1 348.51,437.09 Q271.75,281.90 114.97,355.35 A182.8,182.8 0 0 1 113.89,353.28 Q272.00,281.66 354.53,434.37 Z"/>
<path d="M129.26,377.94 A182.8,182.8 0 0 1 126.22,373.71 Q265.96,265.71 221.45,94.79 A182.8,182.8 0 0 1 225.05,93.70 Q266.30,265.86 129.26,377.94 Z"/>
<path d="M333.56,95.63 A182.8,182.8 0 0 1 337.65,97.04 Q275.72,252.17 205.19,100.75 A182.8,182.8 0 0 1 208.64,99.34 Q275.69,252.03 333.56,95.63 Z"/>
<path d="M414.28,388.99 A182.8,182.8 0 0 1 409.85,393.91 Q285.49,266.67 328.29,93.98 A182.8,182.8 0 0 1 330.13,94.54 Q285.80,266.46 414.28,388.99 Z"/>
<path d="M458.21,252.26 A182.8,182.8 0 0 1 458.37,254.02 Q279.34,275.37 156.92,407.72 A182.8,182.8 0 0 1 152.52,403.81 Q279.12,275.08 458.21,252.26 Z"/>
<path d="M399.54,404.12 A182.8,182.8 0 0 1 395.77,407.47 Q274.60,281.22 124.62,371.38 A182.8,182.8 0 0 1 121.86,367.15 Q274.65,280.84 399.54,404.12 Z"/>
<path d="M116.72,179.86 A182.8,182.8 0 0 1 118.43,176.87 Q277.39,265.66 457.72,290.80 A182.8,182.8 0 0 1 457.50,292.55 Q277.29,265.90 116.72,179.86 Z"/>
<path d="M456.24,300.85 A182.8,182.8 0 0 1 455.23,306.14 Q285.84,280.16 290.02,451.48 A182.8,182.8 0 0 1 285.89,451.74 Q285.69,279.91 456.24,300.85 Z"/>
<path d="M335.69,442.05 A182.8,182.8 0 0 1 334.10,442.59 Q279.28,268.73 279.98,86.44 A182.8,182.8 0 0 1 281.93,86.49 Q279.46,268.71 335.69,442.05 Z"/>
<path d="M309.80,89.51 A182.8,182.8 0 0 1 312.39,90.02 Q269.03,261.94 96.58,303.17 A182.8,182.8 0 0 1 96.12,300.62 Q268.88,261.79 309.80,89.51 Z"/>
<path d="M449.12,209.91 A182.8,182.8 0 0 1 449.95,212.39 Q275.80,267.35 94.48,289.07 A182.8,182.8 0 0 1 94.11,285.26 Q275.74,267.04 449.12,209.91 Z"/>
<path d="M387.09,123.87 A182.8,182.8 0 0 1 391.32,127.21 Q275.37,255.76 144.46,142.47 A182.8,182.8 0 0 1 148.52,138.38 Q275.36,255.39 387.09,123.87 Z"/>
<path d="M295.33,451.00 A182.8,182.8 0 0 1 291.25,451.38 Q286.04,277.33 457.95,249.65 A182.8,182.8 0 0 1 458.35,253.85 Q286.26,277.52 295.33,451.00 Z"/>
<path d="M208.33,438.93 A182.8,182.8 0 0 1 205.24,437.66 Q275.94,269.09 341.90,98.62 A182.8,182.8 0 0 1 345.26,99.95 Q276.26,269.22 208.33,438.93 Z"/>
<path d="M438.42,184.93 A182.8,182.8 0 0 1 440.04,188.14 Q286.65,274.00 321.28,446.35 A182.8,182.8 0 0 1 318.21,447.11 Q286.41,273.88 438.42,184.93 Z"/>
<path d="M94.13,252.88 A182.8,182.8 0 0 1 94.62,248.14 Q266.24,259.05 258.63,87.25 A182.8,182.8 0 0 1 261.44,87.00 Q266.36,259.27 94.13,252.88 Z"/>
<path d="M262.85,86.89 A182.8,182.8 0 0 1 265.97,86.69 Q270.51,252.55 172.55,118.63 A182.8,182.8 0 0 1 177.66,115.24 Q270.61,252.39 262.85,86.89 Z"/>
<path d="M101.82,324.03 A182.8,182.8 0 0 1 99.93,317.62 Q267.38,280.76 276.13,452.00 A182.8,182.8 0 0 1 269.86,451.89 Q267.16,281.08 101.82,324.03 Z"/>
<path d="M97.18,232.20 A182.8,182.8 0 0 1 97.68,229.87 Q274.06,261.11 411.95,146.78 A182.8,182.8 0 0 1 416.00,151.43 Q274.24,261.46 97.18,232.20 Z"/>
<path d="M268.73,451.85 A182.8,182.8 0 0 1 264.47,451.62 Q267.05,275.14 104.83,205.58 A182.8,182.8 0 0 1 106.54,201.14 Q267.34,274.93 268.73,451.85 Z"/>
<path d="M355.11,434.09 A182.8,182.8 0 0 1 353.47,434.86 Q280.40,268.35 282.86,86.52 A182.8,182.8 0 0 1 288.30,86.80 Q280.75,268.32 355.11,434.09 Z"/>
<path d="M162.02,126.45 A182.8,182.8 0 0 1 166.30,123.12 Q265.95,269.70 181.03,425.27 A182.8,182.8 0 0 1 176.36,422.33 Q265.50,269.72 162.02,126.45 Z"/>
<path d="M373.01,114.14 A182.8,182.8 0 0 1 375.94,116.01 Q279.56,270.53 243.68,449.08 A182.8,182.8 0 0 1 240.04,448.39 Q279.23,270.41 373.01,114.14 Z"/>
<path d="M117.96,360.73 A182.8,182.8 0 0 1 115.84,356.96 Q271.21,282.21 336.76,441.68 A182.8,182.8 0 0 1 330.38,443.79 Q271.00,282.51 117.96,360.73 Z"/>
<path d="M100.71,218.01 A182.8,182.8 0 0 1 102.45,212.41 Q263.71,274.67 200.08,435.40 A182.8,182.8 0 0 1 194.22,432.59 Q263.33,274.81 100.71,218.01 Z"/>
<path d="M406.00,397.92 A182.8,182.8 0 0 1 401.08,402.70 Q291.45,274.34 456.41,238.55 A182.8,182.8 0 0 1 457.00,242.21 Q291.73,274.29 406.00,397.92 Z"/>
<path d="M394.23,129.61 A182.8,182.8 0 0 1 398.30,133.16 Q275.60,256.19 142.05,145.02 A182.8,182.8 0 0 1 144.30,142.64 Q275.51,255.89 394.23,129.61 Z"/>
<path d="M131.49,157.51 A182.8,182.8 0 0 1 132.67,156.00 Q269.83,254.44 292.30,87.11 A182.8,182.8 0 0 1 294.76,87.34 Q269.89,254.52 131.49,157.51 Z"/>
<path d="M125.23,372.28 A182.8,182.8 0 0 1 123.31,369.41 Q260.51,269.88 115.20,182.63 A182.8,182.8 0 0 1 117.02,179.33 Q260.69,269.86 125.23,372.28 Z"/>
<path d="M443.01,194.43 A182.8,182.8 0 0 1 444.31,197.39 Q281.28,257.09 209.75,98.90 A182.8,182.8 0 0 1 213.07,97.65 Q281.38,256.88 443.01,194.43 Z"/>
<path d="M396.63,131.68 A182.8,182.8 0 0 1 400.63,135.28 Q278.63,254.19 200.36,102.87 A182.8,182.8 0 0 1 203.62,101.43 Q278.59,253.94 396.63,131.68 Z"/>
<path d="M143.79,143.17 A182.8,182.8 0 0 1 148.51,138.39 Q260.92,264.76 98.27,311.12 A182.8,182.8 0 0 1 97.86,309.34 Q260.66,264.91 143.79,143.17 Z"/>
<path d="M258.32,451.12 A182.8,182.8 0 0 1 254.50,450.71 Q266.36,280.89 101.03,321.45 A182.8,182.8 0 0 1 99.40,315.66 Q266.47,280.62 258.32,451.12 Z"/>
<path d="M155.00,132.35 A182.8,182.8 0 0 1 158.36,129.45 Q277.09,256.08 411.83,146.65 A182.8,182.8 0 0 1 415.88,151.28 Q277.12,256.46 155.00,132.35 Z"/>
<path d="M313.13,90.17 A182.8,182.8 0 0 1 315.17,90.60 Q269.32,262.62 99.55,316.22 A182.8,182.8 0 0 1 98.51,312.14 Q269.16,262.40 313.13,90.17 Z"/>
<path d="M185.00,427.62 A182.8,182.8 0 0 1 181.85,425.77 Q275.34,285.31 353.41,434.90 A182.8,182.8 0 0 1 349.61,436.61 Q275.31,285.49 185.00,427.62 Z"/>
<path d="M361.48,430.89 A182.8,182.8 0 0 1 358.61,432.37 Q271.38,279.28 97.49,307.64 A182.8,182.8 0 0 1 96.62,303.39 Q271.49,278.99 361.48,430.89 Z"/>
<path d="M206.12,438.03 A182.8,182.8 0 0 1 200.78,435.72 Q263.73,280.34 102.27,325.45 A182.8,182.8 0 0 1 101.29,322.33 Q263.95,280.30 206.12,438.03 Z"/>
<path d="M435.60,358.68 A182.8,182.8 0 0 1 434.33,360.91 Q292.30,269.74 440.07,188.20 A182.8,182.8 0 0 1 442.81,193.98 Q292.50,269.91 435.60,358.68 Z"/>
<path d="M98.19,227.62 A182.8,182.8 0 0 1 98.57,226.03 Q259.39,271.59 117.61,360.10 A182.8,182.8 0 0 1 115.35,356.05 Q259.26,271.46 98.19,227.62 Z"/>
<path d="M195.48,433.21 A182.8,182.8 0 0 1 192.80,431.86 Q264.94,283.10 134.42,384.59 A182.8,182.8 0 0 1 130.87,380.08 Q264.90,282.94 195.48,433.21 Z"/>
<path d="M367.86,111.04 A182.8,182.8 0 0 1 369.91,112.24 Q287.64,267.51 411.33,392.31 A182.8,182.8 0 0 1 408.47,395.38 Q287.40,267.60 367.86,111.04 Z"/>
<path d="M458.84,261.65 A182.8,182.8 0 0 1 459.00,268.17 Q291.54,275.86 400.28,403.44 A182.8,182.8 0 0 1 395.31,407.87 Q291.29,275.76 458.84,261.65 Z"/>
<path d="M276.72,452.00 A182.8,182.8 0 0 1 273.19,451.98 Q282.93,272.32 413.84,148.91 A182.8,182.8 0 0 1 415.95,151.36 Q283.21,272.45 276.72,452.00 Z"/>
<path d="M266.58,451.75 A182.8,182.8 0 0 1 262.07,451.45 Q267.43,274.01 114.90,183.18 A182.8,182.8 0 0 1 117.28,178.86 Q267.77,273.81 266.58,451.75 Z"/>
<path d="M448.53,208.22 A182.8,182.8 0 0 1 449.38,210.68 Q277.48,271.66 128.55,376.97 A182.8,182.8 0 0 1 127.21,375.11 Q277.37,271.45 448.53,208.22 Z"/>
<path d="M200.16,102.97 A182.8,182.8 0 0 1 206.32,100.28 Q266.90,253.70 160.05,128.05 A182.8,182.8 0 0 1 164.44,124.54 Q266.81,253.66 200.16,102.97 Z"/>
<path d="M446.97,334.43 A182.8,182.8 0 0 1 446.31,336.11 Q283.18,281.56 245.78,449.45 A182.8,182.8 0 0 1 241.61,448.70 Q283.01,281.44 446.97,334.43 Z"/>
<path d="M98.03,310.08 A182.8,182.8 0 0 1 97.50,307.70 Q269.62,279.96 323.36,445.81 A182.8,182.8 0 0 1 320.00,446.68 Q269.48,280.12 98.03,310.08 Z"/>
<path d="M361.02,107.27 A182.8,182.8 0 0 1 367.08,110.59 Q273.14,256.19 124.19,167.67 A182.8,182.8 0 0 1 125.83,165.26 Q272.92,255.91 361.02,107.27 Z"/>
<path d="M441.53,347.19 A182.8,182.8 0 0 1 439.82,350.72 Q289.32,265.58 374.91,115.34 A182.8,182.8 0 0 1 380.42,119.02 Q289.68,265.59 441.53,347.19 Z"/>
<path d="M388.84,413.17 A182.8,182.8 0 0 1 386.32,415.11 Q287.62,269.53 394.53,129.86 A182.8,182.8 0 0 1 395.90,131.04 Q287.82,269.49 388.84,413.17 Z"/>
<path d="M94.39,288.21 A182.8,182.8 0 0 1 93.86,282.13 Q264.05,261.22 215.59,96.74 A182.8,182.8 0 0 1 220.35,95.14 Q264.32,261.45 94.39,288.21 Z"/>
<path d="M458.26,252.77 A182.8,182.8 0 0 1 458.42,254.66 Q282.77,259.69 225.47,93.58 A182.8,182.8 0 0 1 230.44,92.22 Q283.02,259.53 458.26,252.77 Z"/>
<path d="M101.24,322.17 A182.8,182.8 0 0 1 100.22,318.65 Q276.54,271.82 458.98,272.06 A182.8,182.8 0 0 1 458.78,278.17 Q276.58,272.30 101.24,322.17 Z"/>
<path d="M336.57,96.66 A182.8,182.8 0 0 1 343.08,99.07 Q277.08,251.89 226.88,93.18 A182.8,182.8 0 0 1 232.83,91.62 Q277.05,251.69 336.57,96.66 Z"/>
<path d="M391.60,127.43 A182.8,182.8 0 0 1 395.47,130.67 Q274.12,257.94 115.25,182.53 A182.8,182.8 0 0 1 116.22,180.76 Q273.97,257.69 391.60,127.43 Z"/>
<path d="M393.99,408.99 A182.8,182.8 0 0 1 390.15,412.14 Q283.35,267.32 305.16,88.71 A182.8,182.8 0 0 1 311.07,89.76 Q283.83,267.22 393.99,408.99 Z"/>
<path d="M383.27,417.36 A182.8,182.8 0 0 1 379.73,419.86 Q284.94,268.32 347.56,100.90 A182.8,182.8 0 0 1 352.34,103.01 Q285.36,268.30 383.27,417.36 Z"/>
<path d="M113.52,352.57 A182.8,182.8 0 0 1 111.74,349.01 Q266.44,264.18 245.47,89.00 A182.8,182.8 0 0 1 248.76,88.47 Q266.69,264.33 113.52,352.57 Z"/>
<path d="M320.45,91.84 A182.8,182.8 0 0 1 323.67,92.67 Q287.69,259.68 458.48,255.40 A182.8,182.8 0 0 1 458.84,261.56 Q287.54,259.95 320.45,91.84 Z"/>
<path d="M104.56,206.30 A182.8,182.8 0 0 1 107.05,199.88 Q261.49,272.40 151.11,402.50 A182.8,182.8 0 0 1 149.15,400.63 Q261.27,272.63 104.56,206.30 Z"/>
<path d="M455.94,302.53 A182.8,182.8 0 0 1 455.34,305.62 Q293.00,266.33 433.08,175.37 A182.8,182.8 0 0 1 434.31,177.45 Q293.09,266.28 455.94,302.53 Z"/>
<path d="M106.02,202.45 A182.8,182.8 0 0 1 107.83,198.02 Q273.53,272.74 391.27,411.24 A182.8,182.8 0 0 1 388.23,413.65 Q273.29,273.09 106.02,202.45 Z"/>
<path d="M317.88,91.21 A182.8,182.8 0 0 1 319.94,91.71 Q287.44,261.59 457.23,294.55 A182.8,182.8 0 0 1 456.27,300.70 Q287.29,261.88 317.88,91.21 Z"/>
<path d="M324.56,92.91 A182.8,182.8 0 0 1 328.04,93.90 Q287.93,260.43 459.00,269.11 A182.8,182.8 0 0 1 458.99,270.85 Q287.76,260.47 324.56,92.91 Z"/>
<path d="M442.86,194.09 A182.8,182.8 0 0 1 445.56,200.39 Q292.43,270.59 431.39,365.80 A182.8,182.8 0 0 1 428.23,370.71 Q292.13,270.52 442.86,194.09 Z"/>
<path d="M184.46,427.31 A182.8,182.8 0 0 1 182.10,425.92 Q278.72,282.63 420.78,381.06 A182.8,182.8 0 0 1 418.45,384.01 Q278.73,282.85 184.46,427.31 Z"/>
<path d="M133.84,383.87 A182.8,182.8 0 0 1 132.49,382.17 Q267.40,265.85 243.91,89.28 A182.8,182.8 0 0 1 249.36,88.38 Q267.74,265.89 133.84,383.87 Z"/>
<path d="M367.85,111.04 A182.8,182.8 0 0 1 372.74,113.97 Q278.51,270.23 225.88,444.94 A182.8,182.8 0 0 1 222.30,443.87 Q278.09,270.03 367.85,111.04 Z"/>
<path d="M171.84,419.28 A182.8,182.8 0 0 1 169.04,417.30 Q279.69,278.90 453.16,315.05 A182.8,182.8 0 0 1 451.33,321.59 Q279.74,279.32 171.84,419.28 Z"/>
<path d="M95.27,243.13 A182.8,182.8 0 0 1 95.92,238.94 Q269.70,258.90 326.50,93.46 A182.8,182.8 0 0 1 329.99,94.49 Q269.84,259.16 95.27,243.13 Z"/>
<path d="M456.79,240.84 A182.8,182.8 0 0 1 457.46,245.55 Q276.24,266.54 95.82,239.57 A182.8,182.8 0 0 1 96.13,237.74 Q276.23,266.21 456.79,240.84 Z"/>
<path d="M254.74,87.66 A182.8,182.8 0 0 1 257.92,87.32 Q266.40,262.23 98.41,311.70 A182.8,182.8 0 0 1 97.79,309.02 Q266.21,262.11 254.74,87.66 Z"/>
<path d="M390.81,126.79 A182.8,182.8 0 0 1 394.03,129.44 Q276.80,254.76 170.45,120.09 A182.8,182.8 0 0 1 173.93,117.68 Q276.82,254.50 390.81,126.79 Z"/>
<path d="M213.68,97.42 A182.8,182.8 0 0 1 215.43,96.80 Q264.07,259.63 94.38,250.29 A182.8,182.8 0 0 1 95.04,244.78 Q264.02,259.39 213.68,97.42 Z"/>
<path d="M397.72,405.76 A182.8,182.8 0 0 1 396.03,407.25 Q275.81,282.64 148.47,399.97 A182.8,182.8 0 0 1 146.61,398.13 Q275.80,282.47 397.72,405.76 Z"/>
<path d="M347.74,100.98 A182.8,182.8 0 0 1 351.87,102.80 Q271.39,257.76 104.36,206.86 A182.8,182.8 0 0 1 105.59,203.56 Q271.25,257.51 347.74,100.98 Z"/>
<path d="M172.90,118.39 A182.8,182.8 0 0 1 177.88,115.09 Q262.59,264.31 102.26,325.42 A182.8,182.8 0 0 1 100.39,319.25 Q262.24,264.16 172.90,118.39 Z"/>
<path d="M446.81,334.84 A182.8,182.8 0 0 1 445.77,337.47 Q286.96,263.76 321.76,92.17 A182.8,182.8 0 0 1 325.47,93.16 Q287.19,263.68 446.81,334.84 Z"/>
<path d="M300.56,88.03 A182.8,182.8 0 0 1 305.51,88.76 Q269.04,257.15 103.70,208.71 A182.8,182.8 0 0 1 104.24,207.19 Q268.82,257.04 300.56,88.03 Z"/>
<path d="M245.81,88.94 A182.8,182.8 0 0 1 250.32,88.24 Q275.80,251.06 294.09,87.28 A182.8,182.8 0 0 1 297.06,87.59 Q275.72,251.11 245.81,88.94 Z"/>
<path d="M207.00,100.00 A182.8,182.8 0 0 1 212.94,97.70 Q279.56,254.23 406.71,141.21 A182.8,182.8 0 0 1 408.37,142.92 Q279.35,254.43 207.00,100.00 Z"/>
<path d="M234.34,447.14 A182.8,182.8 0 0 1 230.94,446.31 Q266.25,283.01 122.55,368.23 A182.8,182.8 0 0 1 119.88,363.96 Q266.29,282.83 234.34,447.14 Z"/>
<path d="M411.86,146.68 A182.8,182.8 0 0 1 413.73,148.77 Q291.45,259.51 443.60,195.77 A182.8,182.8 0 0 1 445.65,200.62 Q291.46,259.64 411.86,146.68 Z"/>
<path d="M452.03,219.19 A182.8,182.8 0 0 1 452.74,221.76 Q285.78,275.94 291.22,451.38 A182.8,182.8 0 0 1 285.15,451.78 Q285.44,275.83 452.03,219.19 Z"/>
<path d="M414.90,388.28 A182.8,182.8 0 0 1 412.90,390.56 Q277.17,282.27 158.80,409.32 A182.8,182.8 0 0 1 154.99,406.03 Q277.07,282.00 414.90,388.28 Z"/>
<path d="M125.99,165.02 A182.8,182.8 0 0 1 128.24,161.85 Q273.07,255.75 361.65,107.60 A182.8,182.8 0 0 1 365.84,109.89 Q273.17,256.03 125.99,165.02 Z"/>
<path d="M440.67,348.99 A182.8,182.8 0 0 1 438.74,352.84 Q292.10,268.57 431.65,173.02 A182.8,182.8 0 0 1 434.81,178.32 Q292.35,268.65 440.67,348.99 Z"/>
<path d="M310.59,89.66 A182.8,182.8 0 0 1 316.71,90.94 Q287.36,259.89 458.83,261.29 A182.8,182.8 0 0 1 459.00,268.07 Q287.06,260.17 310.59,89.66 Z"/>
<path d="M222.69,443.99 A182.8,182.8 0 0 1 217.79,442.42 Q274.54,268.81 301.35,88.14 A182.8,182.8 0 0 1 303.53,88.46 Q274.89,268.90 222.69,443.99 Z"/>
<path d="M399.71,134.44 A182.8,182.8 0 0 1 404.11,138.60 Q289.85,268.23 421.34,380.33 A182.8,182.8 0 0 1 418.50,383.94 Q289.49,268.20 399.71,134.44 Z"/>
<path d="M146.01,397.52 A182.8,182.8 0 0 1 144.23,395.69 Q261.97,270.50 123.55,168.64 A182.8,182.8 0 0 1 125.78,165.32 Q262.17,270.42 146.01,397.52 Z"/>
<path d="M445.29,199.75 A182.8,182.8 0 0 1 447.47,205.31 Q288.82,274.20 357.24,433.05 A182.8,182.8 0 0 1 355.72,433.80 Q288.63,273.96 445.29,199.75 Z"/>
<path d="M278.47,86.41 A182.8,182.8 0 0 1 281.68,86.48 Q270.65,267.11 159.74,410.10 A182.8,182.8 0 0 1 155.51,406.49 Q270.28,266.93 278.47,86.41 Z"/>
<path d="M415.39,387.70 A182.8,182.8 0 0 1 413.11,390.33 Q274.45,278.37 104.35,331.52 A182.8,182.8 0 0 1 102.85,327.21 Q274.49,278.03 415.39,387.70 Z"/>
<path d="M267.29,451.78 A182.8,182.8 0 0 1 264.07,451.60 Q283.98,274.69 443.98,196.64 A182.8,182.8 0 0 1 445.22,199.57 Q284.21,274.85 267.29,451.78 Z"/>
<path d="M337.88,441.28 A182.8,182.8 0 0 1 335.11,442.25 Q278.57,268.73 264.63,86.77 A182.8,182.8 0 0 1 268.60,86.56 Q278.90,268.67 337.88,441.28 Z"/>
<path d="M269.99,451.89 A182.8,182.8 0 0 1 267.62,451.80 Q266.65,277.82 93.69,258.95 A182.8,182.8 0 0 1 94.12,253.04 Q266.79,277.53 269.99,451.89 Z"/>
<path d="M457.50,245.82 A182.8,182.8 0 0 1 458.13,251.35 Q285.72,277.44 284.64,451.81 A182.8,182.8 0 0 1 277.88,451.99 Q285.35,277.17 457.50,245.82 Z"/>
<path d="M290.58,451.43 A182.8,182.8 0 0 1 285.24,451.78 Q267.73,280.30 97.71,308.67 A182.8,182.8 0 0 1 97.12,305.87 Q267.96,280.15 290.58,451.43 Z"/>
<path d="M141.82,145.27 A182.8,182.8 0 0 1 145.48,141.42 Q263.95,269.95 161.97,411.91 A182.8,182.8 0 0 1 160.12,410.41 Q263.68,270.06 141.82,145.27 Z"/>
<path d="M366.58,110.31 A182.8,182.8 0 0 1 372.28,113.68 Q273.83,255.76 132.78,155.86 A182.8,182.8 0 0 1 135.67,152.30 Q273.69,255.41 366.58,110.31 Z"/>
<path d="M218.20,442.55 A182.8,182.8 0 0 1 211.68,440.23 Q263.85,277.29 93.63,259.95 A182.8,182.8 0 0 1 93.73,258.30 Q264.18,277.32 218.20,442.55 Z"/>
<path d="M216.15,441.85 A182.8,182.8 0 0 1 210.10,439.63 Q282.02,277.21 458.71,258.91 A182.8,182.8 0 0 1 458.79,260.52 Q282.33,277.40 216.15,441.85 Z"/>
<path d="M440.72,189.51 A182.8,182.8 0 0 1 443.29,195.05 Q277.21,260.06 129.27,160.45 A182.8,182.8 0 0 1 131.82,157.09 Q277.21,259.61 440.72,189.51 Z"/>
<path d="M453.33,224.01 A182.8,182.8 0 0 1 453.90,226.31 Q289.79,274.89 370.34,425.90 A182.8,182.8 0 0 1 366.97,427.87 Q289.59,274.87 453.33,224.01 Z"/>
<path d="M449.29,210.42 A182.8,182.8 0 0 1 450.38,213.73 Q278.39,272.84 145.91,397.42 A182.8,182.8 0 0 1 143.88,395.33 Q278.24,272.57 449.29,210.42 Z"/>
<path d="M131.51,380.92 A182.8,182.8 0 0 1 128.55,376.98 Q271.58,265.88 331.42,94.94 A182.8,182.8 0 0 1 335.14,96.16 Q271.91,266.13 131.51,380.92 Z"/>
<path d="M97.43,231.01 A182.8,182.8 0 0 1 98.54,226.16 Q270.94,275.44 348.57,437.06 A182.8,182.8 0 0 1 345.47,438.37 Q270.73,275.75 97.43,231.01 Z"/>
<path d="M458.55,256.40 A182.8,182.8 0 0 1 458.75,259.70 Q282.57,260.01 220.95,94.95 A182.8,182.8 0 0 1 225.93,93.45 Q282.80,259.77 458.55,256.40 Z"/>
<path d="M97.28,306.67 A182.8,182.8 0 0 1 96.44,302.41 Q264.43,262.16 220.51,95.09 A182.8,182.8 0 0 1 223.41,94.19 Q264.61,262.32 97.28,306.67 Z"/>
<path d="M127.96,376.16 A182.8,182.8 0 0 1 125.19,372.21 Q270.31,283.34 309.38,448.96 A182.8,182.8 0 0 1 304.96,449.72 Q270.23,283.57 127.96,376.16 Z"/>
<path d="M434.73,178.18 A182.8,182.8 0 0 1 436.48,181.30 Q281.25,256.16 216.96,96.27 A182.8,182.8 0 0 1 219.94,95.27 Q281.31,255.95 434.73,178.18 Z"/>
<path d="M119.48,363.30 A182.8,182.8 0 0 1 118.51,361.67 Q265.31,282.45 216.00,441.80 A182.8,182.8 0 0 1 212.07,440.38 Q265.16,282.46 119.48,363.30 Z"/>
<path d="M455.98,302.27 A182.8,182.8 0 0 1 454.94,307.51 Q293.92,268.59 451.86,218.61 A182.8,182.8 0 0 1 452.86,222.21 Q294.02,268.50 455.98,302.27 Z"/>
<path d="M232.52,446.71 A182.8,182.8 0 0 1 227.19,445.31 Q282.52,280.57 451.67,320.44 A182.8,182.8 0 0 1 449.63,326.97 Q282.69,280.96 232.52,446.71 Z"/>
<path d="M161.32,411.39 A182.8,182.8 0 0 1 157.78,408.46 Q275.60,283.59 382.63,417.82 A182.8,182.8 0 0 1 377.25,421.53 Q275.51,283.93 161.32,411.39 Z"/>
<path d="M453.08,315.36 A182.8,182.8 0 0 1 452.63,317.05 Q283.10,280.53 237.86,447.93 A182.8,182.8 0 0 1 231.23,446.38 Q282.80,280.37 453.08,315.36 Z"/>
<path d="M435.82,180.11 A182.8,182.8 0 0 1 436.68,181.67 Q290.80,271.18 407.63,396.26 A182.8,182.8 0 0 1 403.42,400.47 Q290.54,271.31 435.82,180.11 Z"/>
<path d="M382.70,417.77 A182.8,182.8 0 0 1 380.84,419.09 Q272.77,279.62 103.01,327.68 A182.8,182.8 0 0 1 102.39,325.83 Q272.83,279.46 382.70,417.77 Z"/>
<path d="M136.66,387.28 A182.8,182.8 0 0 1 134.98,385.27 Q264.65,267.04 186.43,109.96 A182.8,182.8 0 0 1 190.11,107.94 Q264.92,267.04 136.66,387.28 Z"/>
<path d="M236.15,447.56 A182.8,182.8 0 0 1 229.81,446.01 Q278.08,286.16 360.25,431.53 A182.8,182.8 0 0 1 355.53,433.89 Q278.16,286.35 236.15,447.56 Z"/>
<path d="M146.01,140.87 A182.8,182.8 0 0 1 147.47,139.42 Q260.65,263.37 93.88,282.48 A182.8,182.8 0 0 1 93.73,280.17 Q260.57,263.33 146.01,140.87 Z"/>
<path d="M447.16,333.92 A182.8,182.8 0 0 1 446.20,336.39 Q289.35,280.43 369.25,426.54 A182.8,182.8 0 0 1 363.60,429.75 Q289.12,280.46 447.16,333.92 Z"/>
<path d="M456.51,299.27 A182.8,182.8 0 0 1 455.87,302.88 Q284.57,280.00 264.02,451.59 A182.8,182.8 0 0 1 258.49,451.14 Q284.33,279.80 456.51,299.27 Z"/>
<path d="M388.25,413.63 A182.8,182.8 0 0 1 386.32,415.11 Q289.39,271.54 429.83,170.14 A182.8,182.8 0 0 1 432.61,174.59 Q289.62,271.69 388.25,413.63 Z"/>
<path d="M174.07,117.59 A182.8,182.8 0 0 1 177.63,115.25 Q279.94,264.41 449.48,327.43 A182.8,182.8 0 0 1 448.78,329.46 Q279.72,264.63 174.07,117.59 Z"/>
<path d="M296.86,450.83 A182.8,182.8 0 0 1 291.66,451.35 Q274.09,269.63 218.52,95.74 A182.8,182.8 0 0 1 220.67,95.04 Q274.46,269.57 296.86,450.83 Z"/>
<path d="M97.35,231.39 A182.8,182.8 0 0 1 98.29,227.19 Q265.95,258.06 249.11,88.42 A182.8,182.8 0 0 1 253.71,87.79 Q266.13,258.24 97.35,231.39 Z"/>
<path d="M427.56,371.70 A182.8,182.8 0 0 1 426.14,373.77 Q290.33,268.14 408.80,143.37 A182.8,182.8 0 0 1 411.41,146.17 Q290.53,268.17 427.56,371.70 Z"/>
<path d="M93.42,271.86 A182.8,182.8 0 0 1 93.41,267.12 Q272.43,261.70 383.59,121.27 A182.8,182.8 0 0 1 387.78,124.40 Q272.64,262.09 93.42,271.86 Z"/>
<path d="M298.34,87.75 A182.8,182.8 0 0 1 305.05,88.69 Q285.31,255.20 429.58,169.75 A182.8,182.8 0 0 1 432.36,174.17 Q285.11,255.38 298.34,87.75 Z"/>
<path d="M93.42,266.78 A182.8,182.8 0 0 1 93.64,259.80 Q263.42,277.11 203.13,436.76 A182.8,182.8 0 0 1 201.65,436.11 Q263.33,277.42 93.42,266.78 Z"/>
<path d="M458.76,278.61 A182.8,182.8 0 0 1 458.54,282.21 Q286.31,278.94 296.02,450.92 A182.8,182.8 0 0 1 293.04,451.22 Q286.17,278.77 458.76,278.61 Z"/>
<path d="M140.68,146.52 A182.8,182.8 0 0 1 143.42,143.56 Q277.00,257.61 424.99,163.00 A182.8,182.8 0 0 1 426.67,165.40 Q276.95,257.88 140.68,146.52 Z"/>
<path d="M102.72,211.57 A182.8,182.8 0 0 1 103.63,208.89 Q262.20,273.58 168.75,417.08 A182.8,182.8 0 0 1 167.09,415.87 Q262.07,273.65 102.72,211.57 Z"/>
<path d="M181.76,112.69 A182.8,182.8 0 0 1 184.55,111.04 Q280.44,258.90 452.65,221.44 A182.8,182.8 0 0 1 453.13,223.26 Q280.32,259.08 181.76,112.69 Z"/>
<path d="M449.93,212.35 A182.8,182.8 0 0 1 450.78,214.99 Q291.26,273.08 402.84,401.02 A182.8,182.8 0 0 1 398.71,404.88 Q291.01,273.14 449.93,212.35 Z"/>
<path d="M342.37,98.80 A182.8,182.8 0 0 1 345.87,100.20 Q288.32,263.75 448.88,329.19 A182.8,182.8 0 0 1 447.62,332.68 Q288.08,263.85 342.37,98.80 Z"/>
<path d="M412.76,390.72 A182.8,182.8 0 0 1 411.38,392.25 Q288.13,267.82 379.71,118.53 A182.8,182.8 0 0 1 381.71,119.92 Q288.30,267.81 412.76,390.72 Z"/>
<path d="M437.59,183.36 A182.8,182.8 0 0 1 440.34,188.74 Q275.97,261.67 107.39,199.07 A182.8,182.8 0 0 1 109.02,195.27 Q275.91,261.21 437.59,183.36 Z"/>
<path d="M118.66,361.92 A182.8,182.8 0 0 1 116.32,357.83 Q274.91,267.42 410.36,145.03 A182.8,182.8 0 0 1 411.53,146.31 Q275.09,267.69 118.66,361.92 Z"/>
<path d="M102.70,326.76 A182.8,182.8 0 0 1 102.18,325.17 Q276.64,271.83 458.97,265.84 A182.8,182.8 0 0 1 458.99,271.32 Q276.66,272.18 102.70,326.76 Z"/>
<path d="M97.75,308.84 A182.8,182.8 0 0 1 97.40,307.26 Q259.82,265.79 127.42,162.98 A182.8,182.8 0 0 1 130.02,159.44 Q259.97,265.69 97.75,308.84 Z"/>
<path d="M95.55,241.28 A182.8,182.8 0 0 1 95.91,238.99 Q268.07,258.59 293.98,87.27 A182.8,182.8 0 0 1 300.02,87.96 Q268.36,258.74 95.55,241.28 Z"/>
<path d="M416.17,151.62 A182.8,182.8 0 0 1 418.87,154.92 Q277.76,256.24 164.71,124.34 A182.8,182.8 0 0 1 169.04,121.10 Q277.84,255.92 416.17,151.62 Z"/>
<path d="M320.59,446.53 A182.8,182.8 0 0 1 318.44,447.05 Q287.43,278.76 458.51,282.58 A182.8,182.8 0 0 1 458.04,287.95 Q287.51,279.00 320.59,446.53 Z"/>
<path d="M212.31,97.93 A182.8,182.8 0 0 1 216.92,96.28 Q274.25,251.47 296.50,87.53 A182.8,182.8 0 0 1 300.76,88.06 Q274.23,251.58 212.31,97.93 Z"/>
<path d="M432.88,175.03 A182.8,182.8 0 0 1 434.47,177.74 Q275.80,260.83 109.89,193.34 A182.8,182.8 0 0 1 111.44,190.01 Q275.80,260.53 432.88,175.03 Z"/>
<path d="M417.32,385.40 A182.8,182.8 0 0 1 413.17,390.26 Q291.75,272.45 450.22,213.24 A182.8,182.8 0 0 1 451.75,218.21 Q292.03,272.46 417.32,385.40 Z"/>
<path d="M457.89,289.29 A182.8,182.8 0 0 1 457.26,294.33 Q287.89,279.21 329.03,444.20 A182.8,182.8 0 0 1 324.72,445.44 Q287.71,279.02 457.89,289.29 Z"/>
<path d="M285.86,86.66 A182.8,182.8 0 0 1 290.19,86.94 Q267.77,259.66 93.60,260.60 A182.8,182.8 0 0 1 93.99,254.49 Q267.57,259.34 285.86,86.66 Z"/>
<path d="M197.38,434.13 A182.8,182.8 0 0 1 194.16,432.56 Q263.44,274.44 103.02,210.68 A182.8,182.8 0 0 1 104.24,207.20 Q263.66,274.35 197.38,434.13 Z"/>
<path d="M95.35,242.55 A182.8,182.8 0 0 1 96.34,236.57 Q261.14,274.40 154.81,405.88 A182.8,182.8 0 0 1 150.75,402.16 Q260.89,274.52 95.35,242.55 Z"/>
<path d="M441.90,346.40 A182.8,182.8 0 0 1 441.11,348.06 Q277.24,267.51 132.18,156.62 A182.8,182.8 0 0 1 133.75,154.64 Q277.36,267.33 441.90,346.40 Z"/>
<path d="M110.49,346.38 A182.8,182.8 0 0 1 108.57,342.12 Q262.25,265.60 164.88,124.21 A182.8,182.8 0 0 1 166.60,122.90 Q262.43,265.74 110.49,346.38 Z"/>
<path d="M458.89,275.56 A182.8,182.8 0 0 1 458.61,281.06 Q290.40,262.20 377.86,117.28 A182.8,182.8 0 0 1 380.73,119.24 Q290.56,262.02 458.89,275.56 Z"/>
<path d="M200.43,435.56 A182.8,182.8 0 0 1 196.91,433.91 Q281.07,279.77 452.92,315.94 A182.8,182.8 0 0 1 451.73,320.25 Q281.19,280.07 200.43,435.56 Z"/>
<path d="M458.18,286.45 A182.8,182.8 0 0 1 457.92,289.08 Q285.24,279.33 275.24,452.00 A182.8,182.8 0 0 1 270.97,451.93 Q285.04,279.20 458.18,286.45 Z"/>
<path d="M433.55,362.24 A182.8,182.8 0 0 1 431.81,365.13 Q293.02,272.66 457.04,242.53 A182.8,182.8 0 0 1 457.84,248.68 Q293.15,272.83 433.55,362.24 Z"/>
<path d="M453.96,226.57 A182.8,182.8 0 0 1 454.59,229.30 Q281.20,258.95 197.81,104.06 A182.8,182.8 0 0 1 200.37,102.87 Q281.30,258.75 453.96,226.57 Z"/>
<path d="M265.32,86.72 A182.8,182.8 0 0 1 269.23,86.53 Q268.81,265.89 135.33,385.70 A182.8,182.8 0 0 1 132.94,382.75 Q268.49,265.75 265.32,86.72 Z"/>
<path d="M202.56,436.51 A182.8,182.8 0 0 1 200.84,435.74 Q264.22,273.51 112.02,188.83 A182.8,182.8 0 0 1 114.96,183.07 Q264.46,273.26 202.56,436.51 Z"/>
<path d="M439.01,352.32 A182.8,182.8 0 0 1 437.82,354.61 Q278.71,280.72 164.75,414.09 A182.8,182.8 0 0 1 161.95,411.89 Q278.63,280.49 439.01,352.32 Z"/>
<path d="M338.00,441.24 A182.8,182.8 0 0 1 335.88,441.98 Q274.19,270.18 176.32,116.10 A182.8,182.8 0 0 1 179.74,113.92 Q274.47,270.04 338.00,441.24 Z"/>
<path d="M93.44,265.48 A182.8,182.8 0 0 1 93.58,261.19 Q270.76,260.44 349.96,101.94 A182.8,182.8 0 0 1 352.89,103.26 Q270.90,260.72 93.44,265.48 Z"/>
<path d="M183.98,427.03 A182.8,182.8 0 0 1 180.78,425.12 Q279.10,272.02 429.55,169.71 A182.8,182.8 0 0 1 431.42,172.65 Q279.35,272.26 183.98,427.03 Z"/>
<path d="M390.81,411.61 A182.8,182.8 0 0 1 388.71,413.27 Q290.39,273.21 447.45,205.26 A182.8,182.8 0 0 1 448.60,208.43 Q290.55,273.28 390.81,411.61 Z"/>
<path d="M94.29,251.15 A182.8,182.8 0 0 1 94.82,246.46 Q263.76,259.57 208.70,99.32 A182.8,182.8 0 0 1 215.26,96.86 Q264.06,259.68 94.29,251.15 Z"/>
<path d="M305.89,88.83 A182.8,182.8 0 0 1 309.86,89.53 Q269.22,257.30 102.93,210.95 A182.8,182.8 0 0 1 104.47,206.54 Q269.10,257.05 305.89,88.83 Z"/>
<path d="M239.04,448.18 A182.8,182.8 0 0 1 237.40,447.84 Q265.20,276.96 94.91,245.74 A182.8,182.8 0 0 1 95.20,243.62 Q265.29,276.87 239.04,448.18 Z"/>
<path d="M139.23,148.14 A182.8,182.8 0 0 1 140.71,146.49 Q277.93,266.41 446.31,336.11 A182.8,182.8 0 0 1 445.25,338.77 Q277.80,266.63 139.23,148.14 Z"/>
<path d="M243.24,89.40 A182.8,182.8 0 0 1 248.99,88.44 Q283.54,257.35 450.15,213.01 A182.8,182.8 0 0 1 451.63,217.82 Q283.32,257.64 243.24,89.40 Z"/>
<path d="M447.61,205.69 A182.8,182.8 0 0 1 448.16,207.20 Q286.32,257.09 306.67,88.96 A182.8,182.8 0 0 1 310.35,89.62 Q286.48,257.05 447.61,205.69 Z"/>
<path d="M402.37,401.48 A182.8,182.8 0 0 1 400.70,403.05 Q291.56,276.14 458.93,274.24 A182.8,182.8 0 0 1 458.66,280.29 Q291.63,276.37 402.37,401.48 Z"/>
<path d="M457.29,294.12 A182.8,182.8 0 0 1 456.42,299.81 Q287.91,262.00 330.25,94.57 A182.8,182.8 0 0 1 333.20,95.51 Q288.10,261.76 457.29,294.12 Z"/>
<path d="M99.20,314.89 A182.8,182.8 0 0 1 98.47,311.95 Q273.83,277.75 406.54,397.37 A182.8,182.8 0 0 1 403.81,400.09 Q273.73,278.03 99.20,314.89 Z"/>
<path d="M451.02,322.63 A182.8,182.8 0 0 1 450.02,325.78 Q277.88,266.17 135.93,151.98 A182.8,182.8 0 0 1 137.66,149.94 Q278.01,265.91 451.02,322.63 Z"/>
<path d="M226.42,93.31 A182.8,182.8 0 0 1 228.06,92.85 Q282.30,257.03 446.29,202.23 A182.8,182.8 0 0 1 448.34,207.68 Q282.32,257.33 226.42,93.31 Z"/>
<path d="M457.82,289.90 A182.8,182.8 0 0 1 457.49,292.68 Q276.68,273.50 104.43,331.72 A182.8,182.8 0 0 1 103.59,329.38 Q276.65,273.24 457.82,289.90 Z"/>
<path d="M95.21,294.84 A182.8,182.8 0 0 1 94.82,291.96 Q269.54,279.15 324.36,445.54 A182.8,182.8 0 0 1 322.13,446.14 Q269.45,279.33 95.21,294.84 Z"/>
<path d="M302.47,450.10 A182.8,182.8 0 0 1 299.05,450.57 Q282.68,270.85 382.90,120.77 A182.8,182.8 0 0 1 386.90,123.73 Q283.05,270.97 302.47,450.10 Z"/>
<path d="M123.89,168.12 A182.8,182.8 0 0 1 125.64,165.53 Q260.63,268.37 115.43,356.21 A182.8,182.8 0 0 1 113.46,352.46 Q260.45,268.31 123.89,168.12 Z"/>
<path d="M441.70,346.83 A182.8,182.8 0 0 1 439.94,350.47 Q278.77,280.47 163.81,413.37 A182.8,182.8 0 0 1 160.18,410.47 Q278.67,280.14 441.70,346.83 Z"/>
<path d="M115.02,355.44 A182.8,182.8 0 0 1 113.23,352.00 Q258.92,272.91 93.60,260.56 A182.8,182.8 0 0 1 93.92,255.47 Q259.03,272.83 115.02,355.44 Z"/>
<path d="M451.71,218.09 A182.8,182.8 0 0 1 452.45,220.71 Q288.86,275.07 353.14,435.02 A182.8,182.8 0 0 1 350.75,436.11 Q288.70,274.99 451.71,218.09 Z"/>
<path d="M432.93,175.12 A182.8,182.8 0 0 1 435.55,179.63 Q290.59,258.22 404.70,139.19 A182.8,182.8 0 0 1 408.36,142.91 Q290.64,258.18 432.93,175.12 Z"/>
</g>
<path d="M322.9,88.9 Q277.2,258.2 455.5,324.4" fill="none" stroke="url(#lk)" stroke-width="2.1"/>
<g stroke="#5a4a3a" stroke-opacity="0.45" stroke-width="0.7">
<path d="M276.20,74.60 A194.6,194.6 0 0 1 360.59,93.85 L357.08,101.15 A186.5,186.5 0 0 0 276.20,82.70 Z" fill="#5c43ad"/>
<path d="M364.55,95.81 A194.6,194.6 0 0 1 430.79,151.00 L424.36,155.92 A186.5,186.5 0 0 0 360.87,103.03 Z" fill="#7f69c3"/>
<path d="M433.43,154.54 A194.6,194.6 0 0 1 466.89,230.40 L458.96,232.02 A186.5,186.5 0 0 0 426.89,159.31 Z" fill="#a898d6"/>
<path d="M467.72,234.74 A194.6,194.6 0 0 1 466.11,311.65 L458.21,309.88 A186.5,186.5 0 0 0 459.75,236.17 Z" fill="#d2caf1"/>
<path d="M465.10,315.95 A194.6,194.6 0 0 1 434.03,383.03 L427.46,378.29 A186.5,186.5 0 0 0 457.24,314.00 Z" fill="#ef7c82"/>
<path d="M431.41,386.58 A194.6,194.6 0 0 1 381.90,432.59 L377.50,425.79 A186.5,186.5 0 0 0 424.95,381.70 Z" fill="#f6a8ad"/>
<path d="M378.17,434.95 A194.6,194.6 0 0 1 318.65,459.11 L316.88,451.21 A186.5,186.5 0 0 0 373.92,428.05 Z" fill="#fad3d5"/>
<path d="M314.33,460.03 A194.6,194.6 0 0 1 250.80,462.14 L251.86,454.10 A186.5,186.5 0 0 0 312.74,452.08 Z" fill="#f39b16"/>
<path d="M246.43,461.51 A194.6,194.6 0 0 1 186.04,441.66 L189.80,434.48 A186.5,186.5 0 0 0 247.67,453.50 Z" fill="#f4af69"/>
<path d="M182.15,439.57 A194.6,194.6 0 0 1 132.73,400.67 L138.70,395.20 A186.5,186.5 0 0 0 186.07,432.47 Z" fill="#f7c89c"/>
<path d="M129.78,397.38 A194.6,194.6 0 0 1 96.67,344.30 L104.15,341.17 A186.5,186.5 0 0 0 135.87,392.05 Z" fill="#fbe293"/>
<path d="M95.02,340.21 A194.6,194.6 0 0 1 81.88,279.72 L89.97,279.29 A186.5,186.5 0 0 0 102.56,337.25 Z" fill="#62a64c"/>
<path d="M81.70,275.31 A194.6,194.6 0 0 1 87.55,221.46 L95.40,223.45 A186.5,186.5 0 0 0 89.79,275.06 Z" fill="#8bc477"/>
<path d="M88.68,217.20 A194.6,194.6 0 0 1 109.40,168.97 L116.34,173.15 A186.5,186.5 0 0 0 96.48,219.36 Z" fill="#b6dca6"/>
<path d="M111.71,165.22 A194.6,194.6 0 0 1 142.74,127.58 L148.29,133.47 A186.5,186.5 0 0 0 118.56,169.54 Z" fill="#3c73d5"/>
<path d="M145.99,124.58 A194.6,194.6 0 0 1 186.04,96.74 L189.80,103.92 A186.5,186.5 0 0 0 151.41,130.60 Z" fill="#5f93e3"/>
<path d="M189.98,94.74 A194.6,194.6 0 0 1 234.74,79.07 L236.47,86.98 A186.5,186.5 0 0 0 193.57,102.01 Z" fill="#9cbff0"/>
<path d="M239.07,78.18 A194.6,194.6 0 0 1 271.79,74.65 L271.97,82.75 A186.5,186.5 0 0 0 240.61,86.13 Z" fill="#d1e2f6"/>
</g>
<g stroke="#111"><line x1="277.05" y1="74.00" x2="277.06" y2="72.00" stroke-width="2.3" stroke-linecap="round"/><line x1="307.31" y1="77.10" x2="307.63" y2="75.13" stroke-width="1"/><line x1="337.63" y1="84.55" x2="338.26" y2="82.65" stroke-width="1"/><line x1="365.58" y1="95.66" x2="366.49" y2="93.89" stroke-width="2.3" stroke-linecap="round"/><line x1="391.13" y1="112.17" x2="392.31" y2="110.55" stroke-width="1"/><line x1="414.76" y1="132.56" x2="416.18" y2="131.16" stroke-width="1"/><line x1="434.42" y1="154.88" x2="436.04" y2="153.71" stroke-width="2.3" stroke-linecap="round"/><line x1="449.74" y1="181.16" x2="451.53" y2="180.25" stroke-width="1"/><line x1="461.59" y1="210.04" x2="463.49" y2="209.43" stroke-width="1"/><line x1="468.46" y1="235.47" x2="470.43" y2="235.13" stroke-width="2.3" stroke-linecap="round"/><line x1="470.77" y1="265.80" x2="472.77" y2="265.77" stroke-width="1"/><line x1="468.81" y1="296.96" x2="470.79" y2="297.24" stroke-width="1"/><line x1="465.48" y1="316.92" x2="467.42" y2="317.41" stroke-width="2.3" stroke-linecap="round"/><line x1="455.20" y1="345.55" x2="457.04" y2="346.33" stroke-width="1"/><line x1="440.69" y1="373.18" x2="442.38" y2="374.25" stroke-width="1"/><line x1="431.37" y1="387.62" x2="432.96" y2="388.84" stroke-width="2.3" stroke-linecap="round"/><line x1="410.65" y1="409.89" x2="412.03" y2="411.34" stroke-width="1"/><line x1="386.42" y1="429.57" x2="387.56" y2="431.22" stroke-width="1"/><line x1="377.76" y1="435.90" x2="378.80" y2="437.61" stroke-width="2.3" stroke-linecap="round"/><line x1="350.36" y1="449.12" x2="351.12" y2="450.97" stroke-width="1"/><line x1="320.64" y1="458.66" x2="321.09" y2="460.61" stroke-width="1"/><line x1="313.61" y1="460.78" x2="314.00" y2="462.74" stroke-width="2.3" stroke-linecap="round"/><line x1="283.33" y1="463.67" x2="283.40" y2="465.67" stroke-width="1"/><line x1="245.50" y1="461.97" x2="245.18" y2="463.95" stroke-width="2.3" stroke-linecap="round"/><line x1="216.07" y1="454.28" x2="215.45" y2="456.18" stroke-width="1"/><line x1="181.12" y1="439.68" x2="180.14" y2="441.42" stroke-width="2.3" stroke-linecap="round"/><line x1="156.12" y1="422.34" x2="154.89" y2="423.91" stroke-width="1"/><line x1="128.77" y1="397.13" x2="127.26" y2="398.44" stroke-width="2.3" stroke-linecap="round"/><line x1="111.17" y1="372.32" x2="109.47" y2="373.38" stroke-width="1"/><line x1="94.15" y1="339.63" x2="92.28" y2="340.35" stroke-width="2.3" stroke-linecap="round"/><line x1="85.99" y1="310.32" x2="84.04" y2="310.75" stroke-width="1"/><line x1="81.07" y1="274.48" x2="79.07" y2="274.53" stroke-width="2.3" stroke-linecap="round"/><line x1="83.22" y1="244.14" x2="81.24" y2="243.88" stroke-width="1"/><line x1="88.33" y1="216.21" x2="86.40" y2="215.67" stroke-width="2.3" stroke-linecap="round"/><line x1="99.40" y1="187.88" x2="97.59" y2="187.05" stroke-width="1"/><line x1="111.66" y1="164.18" x2="109.98" y2="163.10" stroke-width="2.3" stroke-linecap="round"/><line x1="130.45" y1="140.25" x2="128.96" y2="138.93" stroke-width="1"/><line x1="146.22" y1="123.57" x2="144.89" y2="122.08" stroke-width="2.3" stroke-linecap="round"/><line x1="170.78" y1="105.63" x2="169.70" y2="103.94" stroke-width="1"/><line x1="190.48" y1="93.83" x2="189.60" y2="92.03" stroke-width="2.3" stroke-linecap="round"/><line x1="218.98" y1="83.20" x2="218.39" y2="81.29" stroke-width="1"/><line x1="239.79" y1="77.43" x2="239.42" y2="75.46" stroke-width="2.3" stroke-linecap="round"/></g>
<g font-family="Liberation Sans, Arial, sans-serif" font-size="16" fill="#111" stroke="#111" stroke-width="0.25" text-anchor="middle" dominant-baseline="central"><text transform="translate(277.20 64.80) rotate(-90.00) scale(0.9 1)">0</text><text transform="translate(366.10 88.50) rotate(-63.00) scale(0.9 1)">0</text><text transform="translate(437.80 147.60) rotate(-36.10) scale(0.9 1)">0</text><text transform="translate(474.90 230.10) rotate(-10.20) scale(0.9 1)">0</text><text transform="translate(473.80 314.40) rotate(13.90) scale(0.9 1)">0</text><text transform="translate(439.50 388.40) rotate(37.10) scale(0.9 1)">0</text><text transform="translate(385.30 440.60) rotate(58.40) scale(0.9 1)">0</text><text transform="translate(319.10 466.90) rotate(78.70) scale(0.9 1)">0</text><text transform="translate(245.40 469.40) rotate(278.80) scale(0.9 1)">0</text><text transform="translate(174.80 443.50) rotate(298.90) scale(0.9 1)">0</text><text transform="translate(122.70 401.00) rotate(318.80) scale(0.9 1)">0</text><text transform="translate(83.60 341.10) rotate(338.60) scale(0.9 1)">0</text><text transform="translate(73.40 273.70) rotate(358.20) scale(0.9 1)">0</text><text transform="translate(81.10 212.40) rotate(375.50) scale(0.9 1)">0</text><text transform="translate(106.40 157.40) rotate(392.30) scale(0.9 1)">0</text><text transform="translate(142.10 116.90) rotate(408.00) scale(0.9 1)">0</text><text transform="translate(186.30 83.70) rotate(423.70) scale(0.9 1)">0</text><text transform="translate(237.70 69.80) rotate(439.00) scale(0.9 1)">0</text></g>
<g font-family="Liberation Serif, Times New Roman, serif" font-weight="bold" font-size="15.3" fill="#000" stroke="#000" stroke-width="0.2" text-anchor="middle" dominant-baseline="central"><text x="333.50" y="15.00" transform="rotate(12.85 333.50 15.00)">Chr1</text><text x="444.00" y="71.00" transform="rotate(39.80 444.00 71.00)">Chr2</text><text x="517.50" y="159.40" transform="rotate(66.20 517.50 159.40)">Chr3</text><text x="540.00" y="274.00" transform="rotate(-88.80 540.00 274.00)">Chr4</text><text x="513.40" y="379.50" transform="rotate(-65.15 513.40 379.50)">Chr5</text><text x="454.00" y="461.70" transform="rotate(-42.90 454.00 461.70)">Chr6</text><text x="374.00" y="518.20" transform="rotate(-22.10 374.00 518.20)">Chr7</text><text x="282.40" y="528.70" transform="rotate(-1.90 282.40 528.70)">Chr8</text><text x="189.50" y="513.30" transform="rotate(18.20 189.50 513.30)">Chr9</text><text x="106.00" y="467.40" transform="rotate(38.20 106.00 467.40)">Chr10</text><text x="51.00" y="402.30" transform="rotate(58.05 51.00 402.30)">Chr11</text><text x="16.30" y="319.70" transform="rotate(77.75 16.30 319.70)">Chr12</text><text x="13.30" y="246.70" transform="rotate(-83.80 13.30 246.70)">Chr13</text><text x="32.20" y="174.40" transform="rotate(-66.75 32.20 174.40)">Chr14</text><text x="73.30" y="108.90" transform="rotate(-50.50 73.30 108.90)">Chr15</text><text x="126.70" y="60.00" transform="rotate(-34.80 126.70 60.00)">Chr16</text><text x="185.00" y="28.80" transform="rotate(-19.30 185.00 28.80)">Chr17</text><text x="244.00" y="13.50" transform="rotate(-6.15 244.00 13.50)">Chr18</text></g>
<g transform="translate(329.5 60.9) rotate(14.4)"><rect x="-41.5" y="-10.5" width="83" height="21" rx="10.5" fill="url(#pill)"/><text x="1.8" y="0.5" text-anchor="middle" dominant-baseline="central" font-family="Liberation Serif, Times New Roman, serif" font-weight="bold" font-style="italic" font-size="15" fill="#111">KoCOPT1</text></g>
<g transform="translate(479.3 342.6) rotate(-67.5)"><rect x="-41.5" y="-10.5" width="83" height="21" rx="10.5" fill="url(#pill)"/><text x="1.8" y="0.5" text-anchor="middle" dominant-baseline="central" font-family="Liberation Serif, Times New Roman, serif" font-weight="bold" font-style="italic" font-size="15" fill="#111">KoCOPT3</text></g>
</svg></body></html>
